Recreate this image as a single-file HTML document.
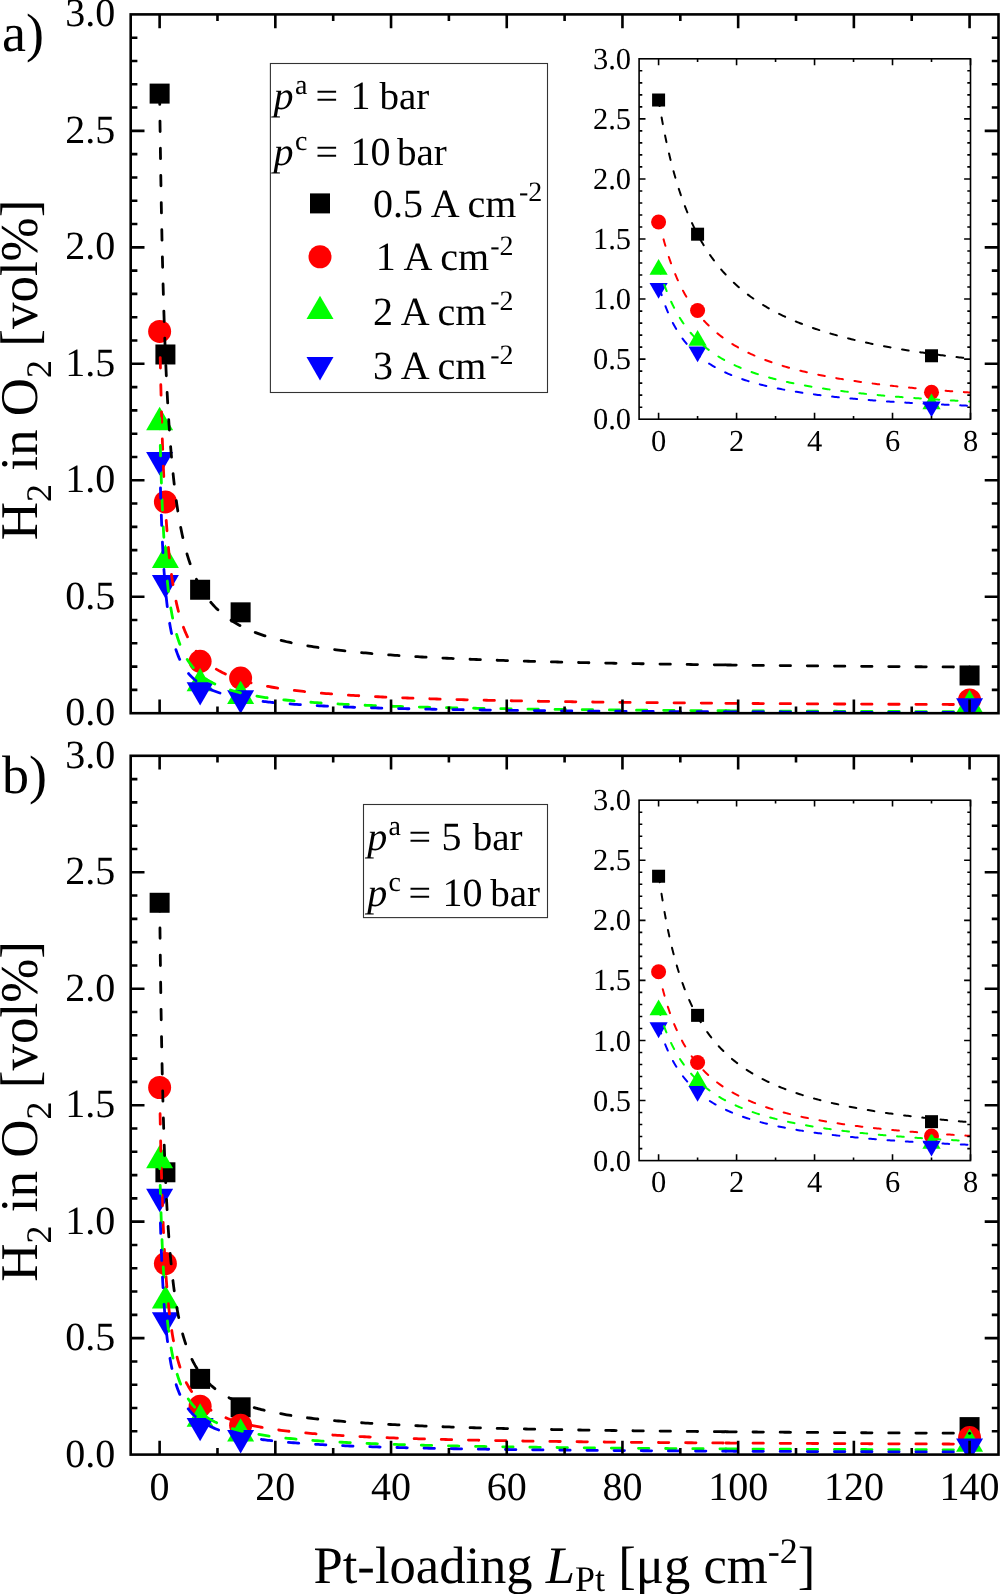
<!DOCTYPE html><html><head><meta charset="utf-8"><style>html,body{margin:0;padding:0;background:#fff;overflow:hidden;width:1000px;height:1594px}svg{display:block;will-change:transform}text{text-rendering:geometricPrecision}</style></head><body>
<svg width="1000" height="1594" viewBox="0 0 1000 1594">
<rect width="1000" height="1594" fill="#fff"/>
<defs><clipPath id="clipm0"><rect x="130.7" y="14.4" width="867.8" height="698.8000000000001"/></clipPath><clipPath id="clipi0"><rect x="639.1" y="58.8" width="331.4" height="360.4"/></clipPath></defs>
<g clip-path="url(#clipm0)">
<rect x="149.63" y="83.60" width="20.00" height="20.00" fill="#000000"/>
<rect x="155.41" y="344.48" width="20.00" height="20.00" fill="#000000"/>
<rect x="190.12" y="579.75" width="20.00" height="20.00" fill="#000000"/>
<rect x="230.62" y="602.34" width="20.00" height="20.00" fill="#000000"/>
<rect x="959.57" y="665.46" width="20.00" height="20.00" fill="#000000"/>
<circle cx="159.63" cy="331.42" r="11.50" fill="#FF0000"/>
<circle cx="165.41" cy="501.93" r="11.50" fill="#FF0000"/>
<circle cx="200.12" cy="661.26" r="11.50" fill="#FF0000"/>
<circle cx="240.62" cy="678.03" r="11.50" fill="#FF0000"/>
<circle cx="969.57" cy="699.92" r="11.50" fill="#FF0000"/>
<path d="M159.63,406.85 L173.13,430.23 L146.13,430.23Z" fill="#00FF00"/>
<path d="M165.41,544.51 L178.91,567.89 L151.91,567.89Z" fill="#00FF00"/>
<path d="M200.12,667.97 L213.62,691.35 L186.62,691.35Z" fill="#00FF00"/>
<path d="M240.62,680.54 L254.12,703.93 L227.12,703.93Z" fill="#00FF00"/>
<path d="M969.57,689.63 L983.07,713.01 L956.07,713.01Z" fill="#00FF00"/>
<path d="M146.13,452.04 L173.13,452.04 L159.63,475.42Z" fill="#0000FF"/>
<path d="M151.91,575.03 L178.91,575.03 L165.41,598.41Z" fill="#0000FF"/>
<path d="M186.62,682.18 L213.62,682.18 L200.12,705.56Z" fill="#0000FF"/>
<path d="M227.12,690.33 L254.12,690.33 L240.62,713.71Z" fill="#0000FF"/>
<path d="M956.07,698.25 L983.07,698.25 L969.57,721.63Z" fill="#0000FF"/>
<path d="M159.63,93.50 L159.70,99.79 L159.78,105.94 L159.86,111.97 L159.94,117.87 L160.01,123.64 L160.09,129.30 L160.17,134.84 L160.24,140.26 L160.32,145.58 L160.40,150.80 L160.48,155.91 L160.55,160.92 L160.63,165.84 L160.71,170.66 L160.78,175.39 L160.86,180.03 L160.94,184.59 L161.02,189.06 L161.09,193.45 L161.17,197.77 L161.25,202.00 L161.32,206.16 L161.40,210.25 L161.48,214.27 L161.56,218.22 L161.63,222.10 L161.71,225.91 L161.79,229.66 L161.87,233.35 L161.94,236.97 L162.02,240.54 L162.10,244.05 L162.17,247.50 L162.25,250.90 L162.33,254.24 L162.41,257.53 L162.48,260.77 L162.56,263.96 L162.64,267.10 L162.71,270.19 L162.79,273.24 L162.87,276.24 L162.95,279.19 L163.02,282.10 L163.10,284.97 L163.18,287.79 L163.25,290.58 L163.33,293.32 L163.41,296.03 L163.49,298.70 L163.56,301.33 L163.64,303.92 L163.72,306.48 L163.79,309.00 L163.87,311.49 L163.95,313.94 L164.03,316.36 L164.10,318.75 L164.18,321.10 L164.26,323.43 L164.34,325.72 L164.41,327.99 L164.49,330.22 L164.57,332.43 L164.64,334.60 L164.72,336.75 L164.80,338.88 L164.88,340.97 L164.95,343.04 L165.03,345.08 L165.11,347.10 L165.18,349.10 L165.26,351.07 L165.34,353.01 L165.42,354.93 L165.49,356.83 L165.57,358.71 L165.65,360.56 L165.72,362.40 L165.80,364.21 L165.88,366.00 L165.96,367.77 L166.03,369.52 L166.11,371.25 L166.19,372.96 L166.26,374.65 L166.34,376.32 L166.42,377.97 L166.50,379.60 L166.57,381.22 L166.65,382.82 L166.73,384.40 L166.81,385.96 L166.88,387.51 L166.96,389.04 L167.04,390.55 L167.11,392.05 L167.19,393.53 L167.27,395.00 L167.35,396.45 L167.42,397.88 L167.50,399.30 L167.65,402.10 L167.81,404.84 L167.96,407.53 L168.12,410.16 L168.27,412.74 L168.43,415.27 L168.58,417.75 L168.73,420.19 L168.89,422.57 L169.04,424.92 L169.20,427.22 L169.35,429.47 L169.51,431.69 L169.66,433.86 L169.82,436.00 L169.97,438.10 L170.12,440.16 L170.28,442.19 L170.43,444.18 L170.59,446.13 L170.74,448.06 L170.90,449.95 L171.05,451.81 L171.21,453.63 L171.36,455.43 L171.51,457.20 L171.67,458.94 L171.82,460.65 L171.98,462.34 L172.13,463.99 L172.29,465.63 L172.44,467.23 L172.59,468.81 L172.75,470.37 L172.90,471.91 L173.06,473.42 L173.21,474.90 L173.37,476.37 L173.52,477.81 L173.68,479.24 L173.91,481.33 L174.14,483.38 L174.37,485.39 L174.60,487.36 L174.83,489.28 L175.06,491.17 L175.30,493.01 L175.53,494.82 L175.76,496.59 L175.99,498.33 L176.22,500.03 L176.45,501.70 L176.69,503.34 L176.92,504.95 L177.15,506.52 L177.38,508.07 L177.61,509.59 L177.84,511.08 L178.07,512.54 L178.31,513.98 L178.54,515.39 L178.85,517.24 L179.16,519.04 L179.46,520.80 L179.77,522.51 L180.08,524.19 L180.39,525.84 L180.70,527.44 L181.01,529.02 L181.32,530.55 L181.63,532.06 L181.93,533.53 L182.24,534.98 L182.55,536.39 L182.86,537.77 L183.25,539.47 L183.63,541.11 L184.02,542.72 L184.40,544.29 L184.79,545.83 L185.18,547.32 L185.56,548.78 L185.95,550.21 L186.33,551.60 L186.72,552.97 L187.18,554.56 L187.65,556.11 L188.11,557.63 L188.57,559.10 L189.04,560.53 L189.50,561.93 L189.96,563.30 L190.50,564.85 L191.04,566.36 L191.58,567.82 L192.12,569.25 L192.66,570.63 L193.20,571.98 L193.74,573.30 L194.36,574.76 L194.98,576.18 L195.60,577.55 L196.21,578.89 L196.83,580.19 L197.53,581.61 L198.22,582.99 L198.92,584.33 L199.61,585.62 L200.31,586.88 L201.08,588.24 L201.85,589.55 L202.62,590.82 L203.39,592.06 L204.16,593.26 L205.01,594.53 L205.86,595.77 L206.71,596.97 L207.56,598.13 L208.49,599.35 L209.41,600.54 L210.34,601.68 L211.27,602.80 L212.19,603.87 L213.20,605.00 L214.20,606.09 L215.20,607.15 L216.21,608.17 L217.29,609.24 L218.37,610.27 L219.45,611.27 L220.53,612.24 L221.61,613.18 L222.77,614.15 L223.93,615.09 L225.08,616.00 L226.24,616.88 L227.40,617.73 L228.56,618.56 L229.79,619.42 L231.03,620.25 L232.26,621.05 L233.50,621.83 L234.73,622.58 L235.97,623.32 L237.20,624.03 L238.44,624.72 L239.75,625.43 L241.06,626.12 L242.37,626.79 L243.69,627.45 L245.00,628.08 L246.31,628.70 L247.62,629.29 L248.93,629.88 L250.25,630.44 L251.56,631.00 L252.87,631.53 L254.26,632.09 L255.65,632.63 L257.04,633.15 L258.43,633.66 L259.82,634.16 L261.21,634.64 L262.60,635.12 L263.99,635.58 L265.38,636.03 L266.77,636.46 L268.15,636.89 L269.54,637.31 L270.93,637.72 L272.32,638.12 L273.71,638.51 L275.10,638.89 L277.59,639.55 L279.85,640.12 L282.11,640.68 L284.37,641.22 L286.62,641.74 L288.88,642.24 L291.14,642.73 L293.40,643.20 L295.66,643.65 L297.91,644.09 L300.17,644.52 L302.43,644.94 L304.69,645.34 L306.95,645.73 L309.21,646.11 L311.46,646.48 L313.72,646.84 L315.98,647.18 L318.24,647.52 L320.50,647.85 L322.75,648.18 L325.01,648.49 L327.27,648.79 L329.53,649.09 L331.79,649.38 L334.05,649.66 L336.30,649.94 L338.56,650.20 L340.82,650.47 L343.08,650.72 L345.34,650.97 L347.59,651.22 L349.85,651.46 L352.11,651.69 L354.37,651.92 L356.63,652.14 L358.89,652.36 L361.14,652.57 L363.40,652.78 L365.66,652.98 L367.92,653.18 L370.18,653.38 L372.43,653.57 L374.69,653.76 L376.95,653.94 L379.21,654.12 L381.47,654.30 L383.73,654.47 L385.98,654.64 L388.24,654.81 L390.50,654.97 L392.76,655.14 L395.02,655.29 L397.27,655.45 L399.53,655.60 L401.79,655.75 L404.05,655.89 L406.31,656.04 L408.57,656.18 L410.82,656.32 L413.08,656.46 L415.34,656.59 L417.60,656.72 L419.86,656.85 L422.11,656.98 L424.37,657.10 L426.63,657.23 L428.89,657.35 L431.15,657.47 L433.40,657.58 L435.66,657.70 L437.92,657.81 L440.18,657.92 L442.44,658.03 L444.70,658.14 L446.95,658.25 L449.21,658.35 L451.47,658.46 L453.73,658.56 L455.99,658.66 L458.24,658.76 L460.50,658.86 L462.76,658.95 L465.02,659.05 L467.28,659.14 L469.54,659.23 L471.79,659.32 L474.05,659.41 L476.31,659.50 L478.57,659.59 L480.83,659.67 L483.08,659.76 L485.34,659.84 L487.60,659.92 L489.86,660.01 L492.12,660.09 L494.38,660.17 L496.63,660.24 L498.89,660.32 L501.15,660.40 L503.41,660.47 L505.67,660.55 L507.92,660.62 L510.18,660.69 L512.44,660.76 L514.70,660.83 L516.96,660.90 L519.22,660.97 L521.47,661.04 L523.73,661.11 L525.99,661.17 L528.25,661.24 L530.51,661.30 L532.76,661.37 L535.02,661.43 L537.28,661.49 L539.54,661.55 L541.80,661.61 L544.05,661.67 L546.31,661.73 L548.57,661.79 L550.83,661.85 L553.09,661.91 L555.35,661.96 L557.60,662.02 L559.86,662.08 L562.12,662.13 L564.38,662.19 L566.64,662.24 L568.89,662.29 L571.15,662.35 L573.41,662.40 L575.67,662.45 L577.93,662.50 L580.19,662.55 L582.44,662.60 L584.70,662.65 L586.96,662.70 L589.22,662.75 L591.48,662.80 L593.73,662.84 L595.99,662.89 L598.25,662.94 L600.51,662.98 L602.77,663.03 L605.03,663.07 L607.28,663.12 L609.54,663.16 L611.80,663.20 L614.06,663.25 L616.32,663.29 L618.57,663.33 L620.83,663.38 L623.09,663.42 L625.35,663.46 L627.61,663.50 L629.87,663.54 L632.12,663.58 L634.38,663.62 L636.64,663.66 L638.90,663.70 L641.16,663.74 L643.41,663.77 L645.67,663.81 L647.93,663.85 L650.19,663.89 L652.45,663.92 L654.71,663.96 L656.96,664.00 L659.22,664.03 L661.48,664.07 L663.74,664.10 L666.00,664.14 L668.25,664.17 L670.51,664.21 L672.77,664.24 L675.03,664.28 L677.29,664.31 L679.54,664.34 L681.80,664.38 L684.06,664.41 L686.32,664.44 L688.58,664.47 L690.84,664.50 L693.09,664.54 L695.35,664.57 L697.61,664.60 L699.87,664.63 L702.13,664.66 L704.38,664.69 L706.64,664.72 L708.90,664.75 L711.16,664.78 L713.42,664.81 L715.68,664.84 L717.93,664.87 L720.19,664.89 L722.45,664.92 L724.71,664.95 L725.84,664.96" fill="none" stroke="#000000" stroke-width="2.8" stroke-dasharray="10.4 16.75" stroke-dashoffset="26.67" stroke-linecap="round"/><path d="M725.84,664.96 L727.47,664.99 L729.10,665.01 L730.73,665.02 L732.36,665.04 L733.99,665.06 L735.62,665.08 L737.25,665.10 L738.88,665.12 L740.51,665.14 L742.14,665.16 L743.77,665.18 L745.40,665.20 L747.03,665.22 L748.66,665.24 L750.29,665.25 L751.92,665.27 L753.55,665.29 L755.18,665.31 L756.81,665.33 L758.44,665.35 L760.07,665.36 L761.70,665.38 L763.34,665.40 L764.97,665.42 L766.60,665.44 L768.23,665.45 L769.86,665.47 L771.49,665.49 L773.12,665.50 L774.75,665.52 L776.38,665.54 L778.01,665.56 L779.64,665.57 L781.27,665.59 L782.90,665.61 L784.53,665.62 L786.16,665.64 L787.79,665.66 L789.42,665.67 L791.05,665.69 L792.68,665.71 L794.31,665.72 L795.94,665.74 L797.57,665.75 L799.20,665.77 L800.83,665.78 L802.46,665.80 L804.09,665.82 L805.72,665.83 L807.35,665.85 L808.98,665.86 L810.62,665.88 L812.25,665.89 L813.88,665.91 L815.51,665.92 L817.14,665.94 L818.77,665.95 L820.40,665.97 L822.03,665.98 L823.66,666.00 L825.29,666.01 L826.92,666.03 L828.55,666.04 L830.18,666.06 L831.81,666.07 L833.44,666.09 L835.07,666.10 L836.70,666.11 L838.33,666.13 L839.96,666.14 L841.59,666.16 L843.22,666.17 L844.85,666.18 L846.48,666.20 L848.11,666.21 L849.74,666.22 L851.37,666.24 L853.00,666.25 L854.63,666.27 L856.26,666.28 L857.89,666.29 L859.53,666.31 L861.16,666.32 L862.79,666.33 L864.42,666.34 L866.05,666.36 L867.68,666.37 L869.31,666.38 L870.94,666.40 L872.57,666.41 L874.20,666.42 L875.83,666.43 L877.46,666.45 L879.09,666.46 L880.72,666.47 L882.35,666.48 L883.98,666.50 L885.61,666.51 L887.24,666.52 L888.87,666.53 L890.50,666.55 L892.13,666.56 L893.76,666.57 L895.39,666.58 L897.02,666.59 L898.65,666.61 L900.28,666.62 L901.91,666.63 L903.54,666.64 L905.17,666.65 L906.81,666.67 L908.44,666.68 L910.07,666.69 L911.70,666.70 L913.33,666.71 L914.96,666.72 L916.59,666.73 L918.22,666.75 L919.85,666.76 L921.48,666.77 L923.11,666.78 L924.74,666.79 L926.37,666.80 L928.00,666.81 L929.63,666.82 L931.26,666.83 L932.89,666.85 L934.52,666.86 L936.15,666.87 L937.78,666.88 L939.41,666.89 L941.04,666.90 L942.67,666.91 L944.30,666.92 L945.93,666.93 L947.56,666.94 L949.19,666.95 L950.82,666.96 L952.45,666.97 L954.09,666.98 L955.72,666.99 L957.35,667.00 L958.98,667.01 L960.61,667.02 L962.24,667.03 L963.87,667.04 L965.50,667.05 L967.13,667.06 L968.76,667.07 L969.57,667.08" fill="none" stroke="#000000" stroke-width="2.8" stroke-dasharray="10.4 16.75" stroke-linecap="round"/><circle cx="969.57" cy="667.08" r="1.5" fill="#000"/>
<path d="M159.63,324.11 L159.70,328.75 L159.78,333.28 L159.86,337.71 L159.94,342.03 L160.01,346.25 L160.09,350.37 L160.17,354.40 L160.24,358.34 L160.32,362.19 L160.40,365.96 L160.48,369.65 L160.55,373.26 L160.63,376.79 L160.71,380.25 L160.78,383.64 L160.86,386.95 L160.94,390.20 L161.02,393.39 L161.09,396.51 L161.17,399.57 L161.25,402.57 L161.32,405.52 L161.40,408.40 L161.48,411.23 L161.56,414.01 L161.63,416.74 L161.71,419.42 L161.79,422.05 L161.87,424.63 L161.94,427.16 L162.02,429.65 L162.10,432.10 L162.17,434.50 L162.25,436.86 L162.33,439.18 L162.41,441.46 L162.48,443.70 L162.56,445.91 L162.64,448.08 L162.71,450.21 L162.79,452.31 L162.87,454.37 L162.95,456.41 L163.02,458.41 L163.10,460.37 L163.18,462.31 L163.25,464.22 L163.33,466.09 L163.41,467.94 L163.49,469.76 L163.56,471.55 L163.64,473.32 L163.72,475.06 L163.79,476.77 L163.87,478.46 L163.95,480.13 L164.03,481.77 L164.10,483.38 L164.18,484.98 L164.26,486.55 L164.34,488.10 L164.41,489.63 L164.49,491.13 L164.57,492.62 L164.64,494.08 L164.72,495.53 L164.80,496.96 L164.95,499.75 L165.11,502.47 L165.26,505.13 L165.42,507.71 L165.57,510.23 L165.72,512.69 L165.88,515.08 L166.03,517.42 L166.19,519.70 L166.34,521.93 L166.50,524.11 L166.65,526.23 L166.81,528.31 L166.96,530.34 L167.11,532.32 L167.27,534.26 L167.42,536.16 L167.58,538.01 L167.73,539.83 L167.89,541.61 L168.04,543.35 L168.19,545.05 L168.35,546.72 L168.50,548.36 L168.66,549.96 L168.81,551.53 L168.97,553.07 L169.12,554.58 L169.28,556.06 L169.43,557.51 L169.58,558.94 L169.82,561.02 L170.05,563.05 L170.28,565.03 L170.51,566.95 L170.74,568.82 L170.97,570.64 L171.21,572.41 L171.44,574.14 L171.67,575.82 L171.90,577.46 L172.13,579.06 L172.36,580.63 L172.59,582.15 L172.83,583.64 L173.06,585.09 L173.29,586.51 L173.60,588.36 L173.91,590.14 L174.22,591.88 L174.52,593.56 L174.83,595.20 L175.14,596.79 L175.45,598.33 L175.76,599.84 L176.07,601.30 L176.38,602.72 L176.69,604.11 L177.07,605.79 L177.46,607.41 L177.84,608.99 L178.23,610.52 L178.62,612.00 L179.00,613.43 L179.39,614.83 L179.85,616.44 L180.31,618.01 L180.78,619.52 L181.24,620.98 L181.70,622.39 L182.17,623.76 L182.71,625.30 L183.25,626.78 L183.79,628.21 L184.33,629.60 L184.87,630.93 L185.49,632.40 L186.10,633.82 L186.72,635.18 L187.34,636.49 L188.03,637.91 L188.73,639.28 L189.42,640.59 L190.12,641.86 L190.89,643.21 L191.66,644.50 L192.43,645.74 L193.20,646.94 L194.05,648.20 L194.90,649.41 L195.75,650.58 L196.68,651.79 L197.60,652.96 L198.53,654.08 L199.46,655.15 L200.46,656.26 L201.46,657.33 L202.47,658.36 L203.55,659.42 L204.63,660.43 L205.71,661.40 L206.79,662.33 L207.95,663.29 L209.10,664.21 L210.26,665.09 L211.42,665.93 L212.58,666.75 L213.81,667.58 L215.05,668.38 L216.28,669.15 L217.52,669.88 L218.75,670.59 L220.07,671.32 L221.38,672.02 L222.69,672.69 L224.00,673.34 L225.31,673.96 L226.63,674.56 L227.94,675.14 L229.25,675.70 L230.56,676.24 L231.95,676.79 L233.34,677.32 L234.73,677.84 L236.12,678.34 L237.51,678.82 L238.90,679.29 L240.29,679.74 L241.68,680.17 L243.07,680.60 L244.46,681.01 L245.85,681.40 L247.24,681.79 L248.63,682.17 L250.02,682.53 L251.40,682.88 L252.79,683.23 L254.18,683.56 L255.57,683.89 L256.96,684.20 L258.35,684.51 L259.74,684.81 L261.13,685.11 L262.52,685.39 L263.91,685.67 L265.30,685.94 L266.69,686.20 L268.15,686.48 L269.62,686.74 L271.09,687.00 L272.55,687.25 L274.02,687.50 L276.46,687.90 L278.72,688.25 L280.98,688.59 L283.24,688.92 L285.50,689.24 L287.75,689.54 L290.01,689.84 L292.27,690.13 L294.53,690.41 L296.79,690.67 L299.04,690.94 L301.30,691.19 L303.56,691.43 L305.82,691.67 L308.08,691.90 L310.33,692.13 L312.59,692.35 L314.85,692.56 L317.11,692.76 L319.37,692.96 L321.63,693.16 L323.88,693.35 L326.14,693.53 L328.40,693.72 L330.66,693.89 L332.92,694.06 L335.17,694.23 L337.43,694.39 L339.69,694.55 L341.95,694.71 L344.21,694.86 L346.47,695.01 L348.72,695.15 L350.98,695.29 L353.24,695.43 L355.50,695.56 L357.76,695.70 L360.01,695.83 L362.27,695.95 L364.53,696.08 L366.79,696.20 L369.05,696.31 L371.31,696.43 L373.56,696.54 L375.82,696.66 L378.08,696.76 L380.34,696.87 L382.60,696.98 L384.85,697.08 L387.11,697.18 L389.37,697.28 L391.63,697.38 L393.89,697.47 L396.15,697.56 L398.40,697.66 L400.66,697.75 L402.92,697.83 L405.18,697.92 L407.44,698.01 L409.69,698.09 L411.95,698.17 L414.21,698.25 L416.47,698.33 L418.73,698.41 L420.98,698.49 L423.24,698.56 L425.50,698.64 L427.76,698.71 L430.02,698.78 L432.28,698.85 L434.53,698.92 L436.79,698.99 L439.05,699.06 L441.31,699.12 L443.57,699.19 L445.82,699.25 L448.08,699.32 L450.34,699.38 L452.60,699.44 L454.86,699.50 L457.12,699.56 L459.37,699.62 L461.63,699.68 L463.89,699.73 L466.15,699.79 L468.41,699.85 L470.66,699.90 L472.92,699.95 L475.18,700.01 L477.44,700.06 L479.70,700.11 L481.96,700.16 L484.21,700.21 L486.47,700.26 L488.73,700.31 L490.99,700.36 L493.25,700.41 L495.50,700.45 L497.76,700.50 L500.02,700.54 L502.28,700.59 L504.54,700.63 L506.80,700.68 L509.05,700.72 L511.31,700.76 L513.57,700.81 L515.83,700.85 L518.09,700.89 L520.34,700.93 L522.60,700.97 L524.86,701.01 L527.12,701.05 L529.38,701.09 L531.64,701.13 L533.89,701.16 L536.15,701.20 L538.41,701.24 L540.67,701.28 L542.93,701.31 L545.18,701.35 L547.44,701.38 L549.70,701.42 L551.96,701.45 L554.22,701.49 L556.47,701.52 L558.73,701.55 L560.99,701.59 L563.25,701.62 L565.51,701.65 L567.77,701.68 L570.02,701.72 L572.28,701.75 L574.54,701.78 L576.80,701.81 L579.06,701.84 L581.31,701.87 L583.57,701.90 L585.83,701.93 L588.09,701.96 L590.35,701.98 L592.61,702.01 L594.86,702.04 L597.12,702.07 L599.38,702.10 L601.64,702.12 L603.90,702.15 L606.15,702.18 L608.41,702.20 L610.67,702.23 L612.93,702.26 L615.19,702.28 L617.45,702.31 L619.70,702.33 L621.96,702.36 L624.22,702.38 L626.48,702.41 L628.74,702.43 L630.99,702.46 L633.25,702.48 L635.51,702.50 L637.77,702.53 L640.03,702.55 L642.29,702.57 L644.54,702.59 L646.80,702.62 L649.06,702.64 L651.32,702.66 L653.58,702.68 L655.83,702.70 L658.09,702.73 L660.35,702.75 L662.61,702.77 L664.87,702.79 L667.12,702.81 L669.38,702.83 L671.64,702.85 L673.90,702.87 L676.16,702.89 L678.42,702.91 L680.67,702.93 L682.93,702.95 L685.19,702.97 L687.45,702.99 L689.71,703.01 L691.96,703.03 L694.22,703.05 L696.48,703.06 L698.74,703.08 L701.00,703.10 L703.26,703.12 L705.51,703.14 L707.77,703.16 L710.03,703.17 L712.29,703.19 L714.55,703.21 L716.80,703.23 L719.06,703.24 L721.32,703.26 L723.58,703.28 L725.84,703.29" fill="none" stroke="#FF0000" stroke-width="2.8" stroke-dasharray="10.4 16.75" stroke-dashoffset="20.81" stroke-linecap="round"/><path d="M725.84,703.29 L727.47,703.30 L729.10,703.32 L730.73,703.33 L732.36,703.34 L733.99,703.35 L735.62,703.36 L737.25,703.38 L738.88,703.39 L740.51,703.40 L742.14,703.41 L743.77,703.42 L745.40,703.43 L747.03,703.44 L748.66,703.45 L750.29,703.47 L751.92,703.48 L753.55,703.49 L755.18,703.50 L756.81,703.51 L758.44,703.52 L760.07,703.53 L761.70,703.54 L763.34,703.55 L764.97,703.56 L766.60,703.57 L768.23,703.58 L769.86,703.59 L771.49,703.60 L773.12,703.61 L774.75,703.62 L776.38,703.63 L778.01,703.65 L779.64,703.66 L781.27,703.67 L782.90,703.68 L784.53,703.69 L786.16,703.69 L787.79,703.70 L789.42,703.71 L791.05,703.72 L792.68,703.73 L794.31,703.74 L795.94,703.75 L797.57,703.76 L799.20,703.77 L800.83,703.78 L802.46,703.79 L804.09,703.80 L805.72,703.81 L807.35,703.82 L808.98,703.83 L810.62,703.84 L812.25,703.85 L813.88,703.86 L815.51,703.86 L817.14,703.87 L818.77,703.88 L820.40,703.89 L822.03,703.90 L823.66,703.91 L825.29,703.92 L826.92,703.93 L828.55,703.93 L830.18,703.94 L831.81,703.95 L833.44,703.96 L835.07,703.97 L836.70,703.98 L838.33,703.99 L839.96,703.99 L841.59,704.00 L843.22,704.01 L844.85,704.02 L846.48,704.03 L848.11,704.04 L849.74,704.04 L851.37,704.05 L853.00,704.06 L854.63,704.07 L856.26,704.08 L857.89,704.08 L859.53,704.09 L861.16,704.10 L862.79,704.11 L864.42,704.11 L866.05,704.12 L867.68,704.13 L869.31,704.14 L870.94,704.15 L872.57,704.15 L874.20,704.16 L875.83,704.17 L877.46,704.18 L879.09,704.18 L880.72,704.19 L882.35,704.20 L883.98,704.21 L885.61,704.21 L887.24,704.22 L888.87,704.23 L890.50,704.24 L892.13,704.24 L893.76,704.25 L895.39,704.26 L897.02,704.26 L898.65,704.27 L900.28,704.28 L901.91,704.29 L903.54,704.29 L905.17,704.30 L906.81,704.31 L908.44,704.31 L910.07,704.32 L911.70,704.33 L913.33,704.33 L914.96,704.34 L916.59,704.35 L918.22,704.35 L919.85,704.36 L921.48,704.37 L923.11,704.37 L924.74,704.38 L926.37,704.39 L928.00,704.39 L929.63,704.40 L931.26,704.41 L932.89,704.41 L934.52,704.42 L936.15,704.43 L937.78,704.43 L939.41,704.44 L941.04,704.45 L942.67,704.45 L944.30,704.46 L945.93,704.46 L947.56,704.47 L949.19,704.48 L950.82,704.48 L952.45,704.49 L954.09,704.50 L955.72,704.50 L957.35,704.51 L958.98,704.51 L960.61,704.52 L962.24,704.53 L963.87,704.53 L965.50,704.54 L967.13,704.54 L968.76,704.55 L969.57,704.55" fill="none" stroke="#FF0000" stroke-width="2.8" stroke-dasharray="10.4 16.75" stroke-linecap="round"/>
<path d="M159.63,416.72 L159.70,420.37 L159.78,423.94 L159.86,427.42 L159.94,430.81 L160.01,434.13 L160.09,437.37 L160.17,440.53 L160.24,443.63 L160.32,446.65 L160.40,449.61 L160.48,452.50 L160.55,455.33 L160.63,458.10 L160.71,460.81 L160.78,463.47 L160.86,466.07 L160.94,468.61 L161.02,471.11 L161.09,473.55 L161.17,475.94 L161.25,478.29 L161.32,480.59 L161.40,482.85 L161.48,485.07 L161.56,487.24 L161.63,489.37 L161.71,491.46 L161.79,493.51 L161.87,495.53 L161.94,497.51 L162.02,499.45 L162.10,501.36 L162.17,503.24 L162.25,505.08 L162.33,506.89 L162.41,508.67 L162.48,510.42 L162.56,512.14 L162.64,513.83 L162.71,515.49 L162.79,517.13 L162.87,518.73 L162.95,520.32 L163.02,521.87 L163.10,523.41 L163.18,524.91 L163.25,526.40 L163.33,527.86 L163.41,529.30 L163.49,530.71 L163.64,533.48 L163.79,536.17 L163.95,538.78 L164.10,541.31 L164.26,543.77 L164.41,546.16 L164.57,548.48 L164.72,550.74 L164.88,552.94 L165.03,555.09 L165.18,557.17 L165.34,559.20 L165.49,561.18 L165.65,563.11 L165.80,564.99 L165.96,566.83 L166.11,568.62 L166.26,570.37 L166.42,572.07 L166.57,573.74 L166.73,575.36 L166.88,576.95 L167.04,578.51 L167.19,580.03 L167.35,581.51 L167.50,582.96 L167.65,584.38 L167.89,586.46 L168.12,588.47 L168.35,590.42 L168.58,592.30 L168.81,594.13 L169.04,595.91 L169.28,597.63 L169.51,599.31 L169.74,600.94 L169.97,602.52 L170.20,604.06 L170.43,605.55 L170.66,607.01 L170.90,608.43 L171.21,610.26 L171.51,612.03 L171.82,613.74 L172.13,615.39 L172.44,616.99 L172.75,618.54 L173.06,620.04 L173.37,621.50 L173.68,622.91 L174.06,624.61 L174.45,626.25 L174.83,627.83 L175.22,629.36 L175.60,630.83 L175.99,632.25 L176.38,633.63 L176.84,635.22 L177.30,636.74 L177.77,638.21 L178.23,639.63 L178.69,640.99 L179.23,642.52 L179.77,643.98 L180.31,645.39 L180.85,646.74 L181.47,648.22 L182.09,649.64 L182.71,650.99 L183.32,652.29 L184.02,653.69 L184.71,655.03 L185.41,656.31 L186.18,657.67 L186.95,658.97 L187.72,660.20 L188.57,661.50 L189.42,662.74 L190.27,663.92 L191.20,665.15 L192.12,666.32 L193.05,667.43 L194.05,668.58 L195.06,669.67 L196.06,670.72 L197.14,671.79 L198.22,672.80 L199.30,673.77 L200.38,674.70 L201.54,675.64 L202.70,676.54 L203.86,677.40 L205.01,678.22 L206.25,679.06 L207.48,679.86 L208.72,680.62 L209.95,681.35 L211.19,682.05 L212.50,682.76 L213.81,683.43 L215.13,684.08 L216.44,684.71 L217.75,685.30 L219.06,685.88 L220.37,686.43 L221.69,686.96 L223.08,687.49 L224.47,688.01 L225.86,688.51 L227.24,688.99 L228.63,689.45 L230.02,689.90 L231.41,690.33 L232.80,690.74 L234.19,691.14 L235.58,691.52 L236.97,691.90 L238.36,692.26 L239.75,692.61 L241.14,692.95 L242.53,693.27 L243.92,693.59 L245.31,693.90 L246.70,694.20 L248.09,694.49 L249.47,694.77 L250.86,695.05 L252.25,695.31 L253.72,695.58 L255.19,695.85 L256.65,696.11 L258.12,696.36 L259.59,696.60 L261.05,696.84 L262.52,697.07 L263.99,697.29 L265.45,697.51 L266.92,697.72 L268.39,697.93 L269.85,698.13 L271.32,698.33 L272.79,698.52 L274.25,698.71 L276.46,698.98 L278.72,699.25 L280.98,699.51 L283.24,699.77 L285.50,700.01 L287.75,700.24 L290.01,700.47 L292.27,700.69 L294.53,700.90 L296.79,701.11 L299.04,701.31 L301.30,701.50 L303.56,701.69 L305.82,701.87 L308.08,702.05 L310.33,702.22 L312.59,702.39 L314.85,702.55 L317.11,702.71 L319.37,702.86 L321.63,703.01 L323.88,703.15 L326.14,703.30 L328.40,703.43 L330.66,703.57 L332.92,703.70 L335.17,703.83 L337.43,703.95 L339.69,704.07 L341.95,704.19 L344.21,704.31 L346.47,704.42 L348.72,704.53 L350.98,704.64 L353.24,704.74 L355.50,704.85 L357.76,704.95 L360.01,705.05 L362.27,705.14 L364.53,705.24 L366.79,705.33 L369.05,705.42 L371.31,705.51 L373.56,705.60 L375.82,705.68 L378.08,705.76 L380.34,705.85 L382.60,705.93 L384.85,706.00 L387.11,706.08 L389.37,706.16 L391.63,706.23 L393.89,706.30 L396.15,706.37 L398.40,706.44 L400.66,706.51 L402.92,706.58 L405.18,706.65 L407.44,706.71 L409.69,706.78 L411.95,706.84 L414.21,706.90 L416.47,706.96 L418.73,707.02 L420.98,707.08 L423.24,707.14 L425.50,707.19 L427.76,707.25 L430.02,707.31 L432.28,707.36 L434.53,707.41 L436.79,707.46 L439.05,707.52 L441.31,707.57 L443.57,707.62 L445.82,707.67 L448.08,707.71 L450.34,707.76 L452.60,707.81 L454.86,707.85 L457.12,707.90 L459.37,707.95 L461.63,707.99 L463.89,708.03 L466.15,708.08 L468.41,708.12 L470.66,708.16 L472.92,708.20 L475.18,708.24 L477.44,708.28 L479.70,708.32 L481.96,708.36 L484.21,708.40 L486.47,708.44 L488.73,708.47 L490.99,708.51 L493.25,708.55 L495.50,708.58 L497.76,708.62 L500.02,708.65 L502.28,708.69 L504.54,708.72 L506.80,708.75 L509.05,708.79 L511.31,708.82 L513.57,708.85 L515.83,708.88 L518.09,708.92 L520.34,708.95 L522.60,708.98 L524.86,709.01 L527.12,709.04 L529.38,709.07 L531.64,709.10 L533.89,709.13 L536.15,709.15 L538.41,709.18 L540.67,709.21 L542.93,709.24 L545.18,709.27 L547.44,709.29 L549.70,709.32 L551.96,709.35 L554.22,709.37 L556.47,709.40 L558.73,709.42 L560.99,709.45 L563.25,709.47 L565.51,709.50 L567.77,709.52 L570.02,709.55 L572.28,709.57 L574.54,709.59 L576.80,709.62 L579.06,709.64 L581.31,709.66 L583.57,709.69 L585.83,709.71 L588.09,709.73 L590.35,709.75 L592.61,709.77 L594.86,709.80 L597.12,709.82 L599.38,709.84 L601.64,709.86 L603.90,709.88 L606.15,709.90 L608.41,709.92 L610.67,709.94 L612.93,709.96 L615.19,709.98 L617.45,710.00 L619.70,710.02 L621.96,710.04 L624.22,710.06 L626.48,710.07 L628.74,710.09 L630.99,710.11 L633.25,710.13 L635.51,710.15 L637.77,710.17 L640.03,710.18 L642.29,710.20 L644.54,710.22 L646.80,710.24 L649.06,710.25 L651.32,710.27 L653.58,710.29 L655.83,710.30 L658.09,710.32 L660.35,710.34 L662.61,710.35 L664.87,710.37 L667.12,710.38 L669.38,710.40 L671.64,710.41 L673.90,710.43 L676.16,710.45 L678.42,710.46 L680.67,710.48 L682.93,710.49 L685.19,710.51 L687.45,710.52 L689.71,710.53 L691.96,710.55 L694.22,710.56 L696.48,710.58 L698.74,710.59 L701.00,710.61 L703.26,710.62 L705.51,710.63 L707.77,710.65 L710.03,710.66 L712.29,710.67 L714.55,710.69 L716.80,710.70 L719.06,710.71 L721.32,710.73 L723.58,710.74 L725.84,710.75" fill="none" stroke="#00FF00" stroke-width="2.8" stroke-dasharray="10.4 16.75" stroke-dashoffset="25.52" stroke-linecap="round"/><path d="M725.84,710.75 L727.47,710.76 L729.10,710.77 L730.73,710.78 L732.36,710.79 L733.99,710.80 L735.62,710.81 L737.25,710.81 L738.88,710.82 L740.51,710.83 L742.14,710.84 L743.77,710.85 L745.40,710.86 L747.03,710.87 L748.66,710.87 L750.29,710.88 L751.92,710.89 L753.55,710.90 L755.18,710.91 L756.81,710.92 L758.44,710.92 L760.07,710.93 L761.70,710.94 L763.34,710.95 L764.97,710.96 L766.60,710.97 L768.23,710.97 L769.86,710.98 L771.49,710.99 L773.12,711.00 L774.75,711.00 L776.38,711.01 L778.01,711.02 L779.64,711.03 L781.27,711.04 L782.90,711.04 L784.53,711.05 L786.16,711.06 L787.79,711.07 L789.42,711.07 L791.05,711.08 L792.68,711.09 L794.31,711.10 L795.94,711.10 L797.57,711.11 L799.20,711.12 L800.83,711.12 L802.46,711.13 L804.09,711.14 L805.72,711.15 L807.35,711.15 L808.98,711.16 L810.62,711.17 L812.25,711.17 L813.88,711.18 L815.51,711.19 L817.14,711.19 L818.77,711.20 L820.40,711.21 L822.03,711.21 L823.66,711.22 L825.29,711.23 L826.92,711.23 L828.55,711.24 L830.18,711.25 L831.81,711.25 L833.44,711.26 L835.07,711.27 L836.70,711.27 L838.33,711.28 L839.96,711.29 L841.59,711.29 L843.22,711.30 L844.85,711.31 L846.48,711.31 L848.11,711.32 L849.74,711.32 L851.37,711.33 L853.00,711.34 L854.63,711.34 L856.26,711.35 L857.89,711.36 L859.53,711.36 L861.16,711.37 L862.79,711.37 L864.42,711.38 L866.05,711.39 L867.68,711.39 L869.31,711.40 L870.94,711.40 L872.57,711.41 L874.20,711.41 L875.83,711.42 L877.46,711.43 L879.09,711.43 L880.72,711.44 L882.35,711.44 L883.98,711.45 L885.61,711.45 L887.24,711.46 L888.87,711.47 L890.50,711.47 L892.13,711.48 L893.76,711.48 L895.39,711.49 L897.02,711.49 L898.65,711.50 L900.28,711.50 L901.91,711.51 L903.54,711.51 L905.17,711.52 L906.81,711.53 L908.44,711.53 L910.07,711.54 L911.70,711.54 L913.33,711.55 L914.96,711.55 L916.59,711.56 L918.22,711.56 L919.85,711.57 L921.48,711.57 L923.11,711.58 L924.74,711.58 L926.37,711.59 L928.00,711.59 L929.63,711.60 L931.26,711.60 L932.89,711.61 L934.52,711.61 L936.15,711.62 L937.78,711.62 L939.41,711.63 L941.04,711.63 L942.67,711.64 L944.30,711.64 L945.93,711.65 L947.56,711.65 L949.19,711.66 L950.82,711.66 L952.45,711.67 L954.09,711.67 L955.72,711.67 L957.35,711.68 L958.98,711.68 L960.61,711.69 L962.24,711.69 L963.87,711.70 L965.50,711.70 L967.13,711.71 L968.76,711.71 L969.57,711.71" fill="none" stroke="#00FF00" stroke-width="2.8" stroke-dasharray="10.4 16.75" stroke-linecap="round"/>
<path d="M159.63,451.71 L159.70,455.47 L159.78,459.12 L159.86,462.68 L159.94,466.13 L160.01,469.49 L160.09,472.76 L160.17,475.95 L160.24,479.05 L160.32,482.07 L160.40,485.02 L160.48,487.89 L160.55,490.69 L160.63,493.42 L160.71,496.09 L160.78,498.69 L160.86,501.23 L160.94,503.72 L161.02,506.14 L161.09,508.51 L161.17,510.83 L161.25,513.09 L161.32,515.31 L161.40,517.47 L161.48,519.59 L161.56,521.67 L161.63,523.70 L161.71,525.69 L161.79,527.64 L161.87,529.54 L161.94,531.41 L162.02,533.24 L162.10,535.04 L162.17,536.80 L162.25,538.53 L162.33,540.22 L162.41,541.88 L162.48,543.51 L162.56,545.11 L162.64,546.67 L162.71,548.21 L162.79,549.73 L162.87,551.21 L162.95,552.67 L163.02,554.10 L163.18,556.89 L163.33,559.58 L163.49,562.19 L163.64,564.71 L163.79,567.14 L163.95,569.50 L164.10,571.78 L164.26,573.99 L164.41,576.14 L164.57,578.22 L164.72,580.23 L164.88,582.19 L165.03,584.10 L165.18,585.94 L165.34,587.74 L165.49,589.49 L165.65,591.19 L165.80,592.84 L165.96,594.45 L166.11,596.02 L166.26,597.55 L166.42,599.03 L166.57,600.49 L166.73,601.90 L166.96,603.96 L167.19,605.94 L167.42,607.85 L167.65,609.70 L167.89,611.49 L168.12,613.21 L168.35,614.88 L168.58,616.49 L168.81,618.05 L169.04,619.56 L169.28,621.03 L169.51,622.45 L169.82,624.28 L170.12,626.04 L170.43,627.73 L170.74,629.35 L171.05,630.92 L171.36,632.43 L171.67,633.88 L171.98,635.29 L172.36,636.98 L172.75,638.59 L173.13,640.15 L173.52,641.63 L173.91,643.07 L174.29,644.44 L174.76,646.02 L175.22,647.53 L175.68,648.98 L176.15,650.36 L176.69,651.91 L177.23,653.38 L177.77,654.78 L178.31,656.12 L178.92,657.58 L179.54,658.96 L180.16,660.29 L180.85,661.70 L181.55,663.04 L182.24,664.31 L183.02,665.66 L183.79,666.93 L184.56,668.14 L185.41,669.40 L186.26,670.59 L187.18,671.82 L188.11,672.98 L189.04,674.08 L190.04,675.21 L191.04,676.28 L192.05,677.29 L193.13,678.32 L194.21,679.29 L195.29,680.21 L196.45,681.15 L197.60,682.03 L198.76,682.87 L200.00,683.72 L201.23,684.52 L202.47,685.29 L203.70,686.01 L205.01,686.74 L206.33,687.43 L207.64,688.09 L208.95,688.72 L210.26,689.32 L211.58,689.89 L212.89,690.44 L214.28,690.99 L215.67,691.52 L217.06,692.02 L218.44,692.50 L219.83,692.96 L221.22,693.40 L222.61,693.83 L224.00,694.24 L225.39,694.63 L226.78,695.00 L228.17,695.37 L229.56,695.71 L230.95,696.05 L232.34,696.37 L233.73,696.69 L235.12,696.99 L236.51,697.28 L237.90,697.56 L239.29,697.84 L240.68,698.10 L242.14,698.37 L243.61,698.63 L245.08,698.88 L246.54,699.13 L248.01,699.36 L249.47,699.59 L250.94,699.82 L252.41,700.03 L253.87,700.24 L255.34,700.44 L256.81,700.64 L258.27,700.83 L259.74,701.02 L261.21,701.20 L262.67,701.38 L264.14,701.55 L265.61,701.72 L267.07,701.88 L268.54,702.04 L270.01,702.19 L271.47,702.34 L272.94,702.49 L274.41,702.64 L276.46,702.83 L278.72,703.04 L280.98,703.24 L283.24,703.43 L285.50,703.62 L287.75,703.80 L290.01,703.97 L292.27,704.14 L294.53,704.30 L296.79,704.46 L299.04,704.61 L301.30,704.76 L303.56,704.90 L305.82,705.04 L308.08,705.18 L310.33,705.31 L312.59,705.44 L314.85,705.56 L317.11,705.68 L319.37,705.80 L321.63,705.91 L323.88,706.02 L326.14,706.13 L328.40,706.24 L330.66,706.34 L332.92,706.44 L335.17,706.54 L337.43,706.63 L339.69,706.72 L341.95,706.82 L344.21,706.90 L346.47,706.99 L348.72,707.07 L350.98,707.16 L353.24,707.24 L355.50,707.32 L357.76,707.39 L360.01,707.47 L362.27,707.54 L364.53,707.61 L366.79,707.68 L369.05,707.75 L371.31,707.82 L373.56,707.89 L375.82,707.95 L378.08,708.02 L380.34,708.08 L382.60,708.14 L384.85,708.20 L387.11,708.26 L389.37,708.32 L391.63,708.37 L393.89,708.43 L396.15,708.48 L398.40,708.53 L400.66,708.59 L402.92,708.64 L405.18,708.69 L407.44,708.74 L409.69,708.79 L411.95,708.84 L414.21,708.88 L416.47,708.93 L418.73,708.97 L420.98,709.02 L423.24,709.06 L425.50,709.11 L427.76,709.15 L430.02,709.19 L432.28,709.23 L434.53,709.27 L436.79,709.31 L439.05,709.35 L441.31,709.39 L443.57,709.43 L445.82,709.46 L448.08,709.50 L450.34,709.54 L452.60,709.57 L454.86,709.61 L457.12,709.64 L459.37,709.68 L461.63,709.71 L463.89,709.74 L466.15,709.78 L468.41,709.81 L470.66,709.84 L472.92,709.87 L475.18,709.90 L477.44,709.93 L479.70,709.96 L481.96,709.99 L484.21,710.02 L486.47,710.05 L488.73,710.08 L490.99,710.11 L493.25,710.13 L495.50,710.16 L497.76,710.19 L500.02,710.21 L502.28,710.24 L504.54,710.27 L506.80,710.29 L509.05,710.32 L511.31,710.34 L513.57,710.37 L515.83,710.39 L518.09,710.41 L520.34,710.44 L522.60,710.46 L524.86,710.48 L527.12,710.51 L529.38,710.53 L531.64,710.55 L533.89,710.57 L536.15,710.60 L538.41,710.62 L540.67,710.64 L542.93,710.66 L545.18,710.68 L547.44,710.70 L549.70,710.72 L551.96,710.74 L554.22,710.76 L556.47,710.78 L558.73,710.80 L560.99,710.82 L563.25,710.84 L565.51,710.86 L567.77,710.88 L570.02,710.89 L572.28,710.91 L574.54,710.93 L576.80,710.95 L579.06,710.96 L581.31,710.98 L583.57,711.00 L585.83,711.02 L588.09,711.03 L590.35,711.05 L592.61,711.07 L594.86,711.08 L597.12,711.10 L599.38,711.11 L601.64,711.13 L603.90,711.15 L606.15,711.16 L608.41,711.18 L610.67,711.19 L612.93,711.21 L615.19,711.22 L617.45,711.24 L619.70,711.25 L621.96,711.27 L624.22,711.28 L626.48,711.29 L628.74,711.31 L630.99,711.32 L633.25,711.34 L635.51,711.35 L637.77,711.36 L640.03,711.38 L642.29,711.39 L644.54,711.40 L646.80,711.42 L649.06,711.43 L651.32,711.44 L653.58,711.45 L655.83,711.47 L658.09,711.48 L660.35,711.49 L662.61,711.50 L664.87,711.52 L667.12,711.53 L669.38,711.54 L671.64,711.55 L673.90,711.56 L676.16,711.58 L678.42,711.59 L680.67,711.60 L682.93,711.61 L685.19,711.62 L687.45,711.63 L689.71,711.64 L691.96,711.65 L694.22,711.67 L696.48,711.68 L698.74,711.69 L701.00,711.70 L703.26,711.71 L705.51,711.72 L707.77,711.73 L710.03,711.74 L712.29,711.75 L714.55,711.76 L716.80,711.77 L719.06,711.78 L721.32,711.79 L723.58,711.80 L725.84,711.81" fill="none" stroke="#0000FF" stroke-width="2.8" stroke-dasharray="10.4 16.75" stroke-dashoffset="18.09" stroke-linecap="round"/><path d="M725.84,711.81 L727.47,711.81 L729.10,711.82 L730.73,711.83 L732.36,711.84 L733.99,711.84 L735.62,711.85 L737.25,711.86 L738.88,711.86 L740.51,711.87 L742.14,711.88 L743.77,711.88 L745.40,711.89 L747.03,711.90 L748.66,711.90 L750.29,711.91 L751.92,711.91 L753.55,711.92 L755.18,711.93 L756.81,711.93 L758.44,711.94 L760.07,711.95 L761.70,711.95 L763.34,711.96 L764.97,711.96 L766.60,711.97 L768.23,711.98 L769.86,711.98 L771.49,711.99 L773.12,711.99 L774.75,712.00 L776.38,712.01 L778.01,712.01 L779.64,712.02 L781.27,712.02 L782.90,712.03 L784.53,712.04 L786.16,712.04 L787.79,712.05 L789.42,712.05 L791.05,712.06 L792.68,712.06 L794.31,712.07 L795.94,712.07 L797.57,712.08 L799.20,712.09 L800.83,712.09 L802.46,712.10 L804.09,712.10 L805.72,712.11 L807.35,712.11 L808.98,712.12 L810.62,712.12 L812.25,712.13 L813.88,712.13 L815.51,712.14 L817.14,712.14 L818.77,712.15 L820.40,712.15 L822.03,712.16 L823.66,712.16 L825.29,712.17 L826.92,712.17 L828.55,712.18 L830.18,712.18 L831.81,712.19 L833.44,712.19 L835.07,712.20 L836.70,712.20 L838.33,712.21 L839.96,712.21 L841.59,712.22 L843.22,712.22 L844.85,712.23 L846.48,712.23 L848.11,712.24 L849.74,712.24 L851.37,712.25 L853.00,712.25 L854.63,712.26 L856.26,712.26 L857.89,712.27 L859.53,712.27 L861.16,712.28 L862.79,712.28 L864.42,712.28 L866.05,712.29 L867.68,712.29 L869.31,712.30 L870.94,712.30 L872.57,712.31 L874.20,712.31 L875.83,712.32 L877.46,712.32 L879.09,712.32 L880.72,712.33 L882.35,712.33 L883.98,712.34 L885.61,712.34 L887.24,712.35 L888.87,712.35 L890.50,712.35 L892.13,712.36 L893.76,712.36 L895.39,712.37 L897.02,712.37 L898.65,712.37 L900.28,712.38 L901.91,712.38 L903.54,712.39 L905.17,712.39 L906.81,712.39 L908.44,712.40 L910.07,712.40 L911.70,712.41 L913.33,712.41 L914.96,712.41 L916.59,712.42 L918.22,712.42 L919.85,712.43 L921.48,712.43 L923.11,712.43 L924.74,712.44 L926.37,712.44 L928.00,712.45 L929.63,712.45 L931.26,712.45 L932.89,712.46 L934.52,712.46 L936.15,712.46 L937.78,712.47 L939.41,712.47 L941.04,712.48 L942.67,712.48 L944.30,712.48 L945.93,712.49 L947.56,712.49 L949.19,712.49 L950.82,712.50 L952.45,712.50 L954.09,712.50 L955.72,712.51 L957.35,712.51 L958.98,712.52 L960.61,712.52 L962.24,712.52 L963.87,712.53 L965.50,712.53 L967.13,712.53 L968.76,712.54 L969.57,712.54" fill="none" stroke="#0000FF" stroke-width="2.8" stroke-dasharray="10.4 16.75" stroke-linecap="round"/>
</g>
<rect x="130.7" y="14.4" width="867.8" height="698.8000000000001" fill="none" stroke="#000" stroke-width="2.6"/>
<path d="M159.63,713.20L159.63,699.40M275.33,713.20L275.33,699.40M391.04,713.20L391.04,699.40M506.75,713.20L506.75,699.40M622.45,713.20L622.45,699.40M738.16,713.20L738.16,699.40M853.87,713.20L853.87,699.40M969.57,713.20L969.57,699.40M217.48,713.20L217.48,706.50M333.19,713.20L333.19,706.50M448.89,713.20L448.89,706.50M564.60,713.20L564.60,706.50M680.31,713.20L680.31,706.50M796.01,713.20L796.01,706.50M911.72,713.20L911.72,706.50M159.63,14.40L159.63,28.20M275.33,14.40L275.33,28.20M391.04,14.40L391.04,28.20M506.75,14.40L506.75,28.20M622.45,14.40L622.45,28.20M738.16,14.40L738.16,28.20M853.87,14.40L853.87,28.20M969.57,14.40L969.57,28.20M217.48,14.40L217.48,21.10M333.19,14.40L333.19,21.10M448.89,14.40L448.89,21.10M564.60,14.40L564.60,21.10M680.31,14.40L680.31,21.10M796.01,14.40L796.01,21.10M911.72,14.40L911.72,21.10M130.70,596.73L144.50,596.73M130.70,480.27L144.50,480.27M130.70,363.80L144.50,363.80M130.70,247.33L144.50,247.33M130.70,130.87L144.50,130.87M130.70,689.91L137.40,689.91M130.70,666.61L137.40,666.61M130.70,643.32L137.40,643.32M130.70,620.03L137.40,620.03M130.70,573.44L137.40,573.44M130.70,550.15L137.40,550.15M130.70,526.85L137.40,526.85M130.70,503.56L137.40,503.56M130.70,456.97L137.40,456.97M130.70,433.68L137.40,433.68M130.70,410.39L137.40,410.39M130.70,387.09L137.40,387.09M130.70,340.51L137.40,340.51M130.70,317.21L137.40,317.21M130.70,293.92L137.40,293.92M130.70,270.63L137.40,270.63M130.70,224.04L137.40,224.04M130.70,200.75L137.40,200.75M130.70,177.45L137.40,177.45M130.70,154.16L137.40,154.16M130.70,107.57L137.40,107.57M130.70,84.28L137.40,84.28M130.70,60.99L137.40,60.99M130.70,37.69L137.40,37.69M998.50,596.73L984.70,596.73M998.50,480.27L984.70,480.27M998.50,363.80L984.70,363.80M998.50,247.33L984.70,247.33M998.50,130.87L984.70,130.87M998.50,689.91L991.80,689.91M998.50,666.61L991.80,666.61M998.50,643.32L991.80,643.32M998.50,620.03L991.80,620.03M998.50,573.44L991.80,573.44M998.50,550.15L991.80,550.15M998.50,526.85L991.80,526.85M998.50,503.56L991.80,503.56M998.50,456.97L991.80,456.97M998.50,433.68L991.80,433.68M998.50,410.39L991.80,410.39M998.50,387.09L991.80,387.09M998.50,340.51L991.80,340.51M998.50,317.21L991.80,317.21M998.50,293.92L991.80,293.92M998.50,270.63L991.80,270.63M998.50,224.04L991.80,224.04M998.50,200.75L991.80,200.75M998.50,177.45L991.80,177.45M998.50,154.16L991.80,154.16M998.50,107.57L991.80,107.57M998.50,84.28L991.80,84.28M998.50,60.99L991.80,60.99M998.50,37.69L991.80,37.69" stroke="#000" stroke-width="2.6" fill="none"/>
<text x="115.2" y="725.2" font-family="Liberation Serif" font-size="40" text-anchor="end">0.0</text>
<text x="115.2" y="608.7" font-family="Liberation Serif" font-size="40" text-anchor="end">0.5</text>
<text x="115.2" y="492.3" font-family="Liberation Serif" font-size="40" text-anchor="end">1.0</text>
<text x="115.2" y="375.8" font-family="Liberation Serif" font-size="40" text-anchor="end">1.5</text>
<text x="115.2" y="259.3" font-family="Liberation Serif" font-size="40" text-anchor="end">2.0</text>
<text x="115.2" y="142.9" font-family="Liberation Serif" font-size="40" text-anchor="end">2.5</text>
<text x="115.2" y="26.4" font-family="Liberation Serif" font-size="40" text-anchor="end">3.0</text>
<rect x="639.1" y="58.8" width="331.4" height="360.4" fill="#fff" stroke="none"/>
<g clip-path="url(#clipi0)">
<rect x="652.09" y="93.51" width="13.00" height="13.00" fill="#000000"/>
<rect x="691.08" y="227.69" width="13.00" height="13.00" fill="#000000"/>
<rect x="925.01" y="349.27" width="13.00" height="13.00" fill="#000000"/>
<circle cx="658.59" cy="221.94" r="7.50" fill="#FF0000"/>
<circle cx="697.58" cy="310.48" r="7.50" fill="#FF0000"/>
<circle cx="931.51" cy="392.29" r="7.50" fill="#FF0000"/>
<path d="M658.59,259.11 L667.69,274.87 L649.49,274.87Z" fill="#00FF00"/>
<path d="M697.58,329.99 L706.68,345.75 L688.48,345.75Z" fill="#00FF00"/>
<path d="M931.51,393.54 L940.61,409.30 L922.41,409.30Z" fill="#00FF00"/>
<path d="M649.49,283.02 L667.69,283.02 L658.59,298.78Z" fill="#0000FF"/>
<path d="M688.48,346.57 L706.68,346.57 L697.58,362.33Z" fill="#0000FF"/>
<path d="M922.41,401.59 L940.61,401.59 L931.51,417.35Z" fill="#0000FF"/>
<path d="M658.59,99.59 L658.95,101.82 L659.31,104.01 L659.66,106.17 L660.02,108.30 L660.37,110.40 L660.73,112.47 L661.08,114.51 L661.44,116.52 L661.79,118.50 L662.15,120.45 L662.51,122.38 L662.86,124.28 L663.22,126.15 L663.57,128.00 L663.93,129.82 L664.28,131.62 L664.64,133.40 L665.00,135.15 L665.35,136.87 L665.71,138.58 L666.06,140.26 L666.42,141.93 L666.77,143.57 L667.13,145.19 L667.48,146.79 L667.84,148.36 L668.20,149.92 L668.55,151.46 L668.91,152.98 L669.26,154.49 L669.62,155.97 L669.97,157.44 L670.33,158.89 L670.69,160.32 L671.04,161.73 L671.40,163.13 L671.75,164.51 L672.46,167.22 L673.17,169.87 L673.89,172.46 L674.60,175.00 L675.31,177.47 L676.02,179.90 L676.73,182.27 L677.44,184.58 L678.15,186.85 L678.86,189.08 L679.58,191.25 L680.29,193.38 L681.00,195.47 L681.71,197.51 L682.42,199.52 L683.13,201.48 L683.84,203.41 L684.55,205.29 L685.27,207.15 L685.98,208.96 L686.69,210.75 L687.40,212.50 L688.11,214.21 L688.82,215.90 L689.53,217.55 L690.24,219.18 L690.96,220.77 L691.67,222.34 L692.38,223.88 L693.09,225.39 L693.80,226.88 L694.51,228.34 L695.22,229.78 L695.93,231.19 L696.65,232.58 L697.36,233.95 L698.07,235.29 L698.78,236.62 L699.49,237.92 L700.20,239.20 L700.91,240.46 L701.62,241.70 L702.69,243.52 L703.76,245.30 L704.82,247.04 L705.89,248.75 L706.96,250.41 L708.03,252.04 L709.09,253.63 L710.16,255.19 L711.23,256.71 L712.29,258.20 L713.36,259.66 L714.43,261.09 L715.49,262.49 L716.56,263.87 L717.63,265.21 L718.69,266.53 L719.76,267.82 L720.83,269.09 L721.89,270.33 L722.96,271.55 L724.03,272.75 L725.10,273.92 L726.16,275.07 L727.23,276.21 L728.30,277.32 L729.36,278.41 L730.43,279.48 L731.50,280.53 L732.56,281.56 L733.63,282.58 L734.70,283.57 L735.76,284.55 L736.83,285.52 L737.90,286.46 L738.96,287.40 L740.39,288.61 L741.81,289.81 L743.23,290.97 L744.65,292.11 L746.08,293.23 L747.50,294.32 L748.92,295.40 L750.34,296.45 L751.77,297.47 L753.19,298.48 L754.61,299.47 L756.03,300.44 L757.46,301.38 L758.88,302.32 L760.30,303.23 L761.72,304.12 L763.15,305.00 L764.57,305.87 L765.99,306.71 L767.41,307.54 L768.84,308.36 L770.26,309.16 L771.68,309.95 L773.10,310.72 L774.53,311.48 L775.95,312.23 L777.37,312.97 L778.79,313.69 L780.22,314.40 L781.64,315.10 L783.06,315.78 L784.48,316.46 L785.91,317.12 L787.33,317.77 L788.75,318.42 L790.17,319.05 L791.60,319.67 L793.02,320.29 L794.44,320.89 L795.86,321.48 L797.29,322.07 L798.71,322.64 L800.13,323.21 L801.55,323.77 L802.98,324.32 L804.40,324.86 L805.82,325.40 L807.24,325.92 L808.67,326.44 L810.09,326.96 L811.51,327.46 L812.93,327.96 L814.36,328.45 L815.78,328.93 L817.20,329.41 L818.62,329.88 L820.05,330.34 L821.47,330.80 L822.89,331.25 L824.31,331.70 L825.74,332.14 L827.16,332.57 L828.58,333.00 L830.00,333.42 L831.43,333.84 L832.85,334.25 L834.27,334.66 L835.69,335.06 L837.12,335.45 L838.54,335.85 L839.96,336.23 L841.38,336.61 L842.81,336.99 L844.23,337.36 L845.65,337.73 L847.07,338.10 L848.50,338.45 L849.92,338.81 L851.34,339.16 L852.76,339.51 L854.19,339.85 L855.61,340.19 L857.03,340.52 L858.45,340.85 L859.88,341.18 L861.30,341.50 L862.72,341.82 L864.14,342.14 L865.57,342.45 L866.99,342.76 L868.41,343.06 L869.83,343.37 L871.26,343.67 L872.68,343.96 L874.10,344.25 L875.52,344.54 L876.95,344.83 L878.37,345.11 L879.79,345.39 L881.21,345.67 L882.64,345.94 L884.06,346.21 L885.48,346.48 L886.90,346.75 L888.33,347.01 L889.75,347.27 L891.17,347.53 L892.59,347.78 L894.02,348.04 L895.44,348.29 L896.86,348.53 L898.28,348.78 L899.71,349.02 L901.13,349.26 L902.55,349.50 L903.97,349.74 L905.40,349.97 L906.82,350.20 L908.24,350.43 L909.66,350.66 L911.09,350.88 L912.51,351.10 L913.93,351.32 L915.35,351.54 L916.78,351.76 L918.20,351.97 L919.62,352.18 L921.04,352.39 L922.47,352.60 L923.89,352.81 L925.31,353.01 L926.73,353.22 L928.16,353.42 L929.58,353.62 L931.00,353.81 L932.42,354.01 L933.84,354.20 L935.27,354.40 L936.69,354.59 L938.11,354.78 L939.53,354.96 L940.96,355.15 L942.38,355.33 L943.80,355.51 L945.22,355.70 L946.65,355.87 L948.07,356.05 L949.49,356.23 L950.91,356.40 L952.34,356.58 L953.76,356.75 L955.18,356.92 L956.60,357.09 L958.03,357.26 L959.45,357.42 L960.87,357.59 L962.29,357.75 L963.72,357.91 L965.14,358.07 L966.56,358.23 L967.98,358.39 L969.41,358.55 L970.83,358.71 L972.25,358.86 L973.67,359.01 L975.10,359.17 L976.52,359.32 L977.94,359.47 L978.30,359.51" fill="none" stroke="#000000" stroke-width="2" stroke-dasharray="6.7 11.65" stroke-dashoffset="0.15" stroke-linecap="round"/>
<path d="M658.59,218.53 L658.95,220.17 L659.31,221.79 L659.66,223.38 L660.02,224.94 L660.37,226.48 L660.73,227.99 L661.08,229.48 L661.44,230.95 L661.79,232.39 L662.15,233.81 L662.51,235.21 L662.86,236.59 L663.57,239.29 L664.28,241.90 L665.00,244.44 L665.71,246.90 L666.42,249.30 L667.13,251.63 L667.84,253.89 L668.55,256.10 L669.26,258.24 L669.97,260.33 L670.69,262.36 L671.40,264.34 L672.11,266.27 L672.82,268.16 L673.53,269.99 L674.24,271.78 L674.95,273.53 L675.66,275.23 L676.38,276.90 L677.09,278.53 L677.80,280.11 L678.51,281.67 L679.22,283.18 L679.93,284.67 L680.64,286.12 L681.35,287.54 L682.07,288.93 L682.78,290.29 L683.49,291.62 L684.20,292.92 L684.91,294.19 L685.62,295.44 L686.33,296.67 L687.40,298.46 L688.47,300.20 L689.53,301.88 L690.60,303.52 L691.67,305.12 L692.73,306.66 L693.80,308.17 L694.87,309.63 L695.93,311.06 L697.00,312.45 L698.07,313.80 L699.13,315.12 L700.20,316.40 L701.27,317.65 L702.34,318.87 L703.40,320.06 L704.47,321.22 L705.54,322.36 L706.60,323.47 L707.67,324.55 L708.74,325.60 L709.80,326.64 L710.87,327.65 L711.94,328.63 L713.00,329.60 L714.07,330.54 L715.49,331.77 L716.92,332.96 L718.34,334.12 L719.76,335.25 L721.18,336.35 L722.61,337.41 L724.03,338.45 L725.45,339.47 L726.87,340.45 L728.30,341.41 L729.72,342.35 L731.14,343.27 L732.56,344.16 L733.99,345.03 L735.41,345.88 L736.83,346.71 L738.25,347.52 L739.68,348.31 L741.10,349.08 L742.52,349.84 L743.94,350.58 L745.37,351.30 L746.79,352.01 L748.21,352.70 L749.63,353.38 L751.06,354.04 L752.48,354.69 L753.90,355.33 L755.32,355.95 L756.75,356.56 L758.17,357.16 L759.59,357.74 L761.01,358.32 L762.44,358.88 L763.86,359.43 L765.28,359.98 L766.70,360.51 L768.13,361.03 L769.55,361.54 L770.97,362.05 L772.39,362.54 L773.82,363.02 L775.24,363.50 L776.66,363.97 L778.08,364.43 L779.51,364.88 L780.93,365.32 L782.35,365.76 L783.77,366.19 L785.20,366.61 L786.62,367.02 L788.04,367.43 L789.46,367.83 L790.89,368.22 L792.31,368.61 L793.73,368.99 L795.15,369.37 L796.58,369.74 L798.00,370.10 L799.42,370.46 L800.84,370.81 L802.27,371.16 L803.69,371.50 L805.11,371.84 L806.53,372.17 L807.96,372.50 L809.38,372.82 L810.80,373.14 L812.22,373.45 L813.64,373.76 L815.07,374.06 L816.49,374.36 L817.91,374.66 L819.33,374.95 L820.76,375.24 L822.18,375.52 L823.60,375.80 L825.02,376.08 L826.45,376.35 L827.87,376.62 L829.29,376.88 L830.71,377.14 L832.14,377.40 L833.56,377.65 L834.98,377.90 L836.40,378.15 L837.83,378.40 L839.25,378.64 L840.67,378.88 L842.09,379.11 L843.52,379.34 L844.94,379.57 L846.36,379.80 L847.78,380.02 L849.21,380.25 L850.63,380.46 L852.05,380.68 L853.47,380.89 L854.90,381.10 L856.32,381.31 L857.74,381.52 L859.16,381.72 L860.59,381.92 L862.01,382.12 L863.43,382.32 L864.85,382.51 L866.28,382.70 L867.70,382.89 L869.12,383.08 L870.54,383.27 L871.97,383.45 L873.39,383.63 L874.81,383.81 L876.23,383.99 L877.66,384.16 L879.08,384.34 L880.50,384.51 L881.92,384.68 L883.35,384.85 L884.77,385.01 L886.19,385.18 L887.61,385.34 L889.04,385.50 L890.46,385.66 L891.88,385.82 L893.30,385.98 L894.73,386.13 L896.15,386.28 L897.57,386.44 L898.99,386.59 L900.42,386.73 L901.84,386.88 L903.26,387.03 L904.68,387.17 L906.11,387.31 L907.53,387.46 L908.95,387.60 L910.37,387.73 L911.80,387.87 L913.22,388.01 L914.64,388.14 L916.06,388.28 L917.49,388.41 L918.91,388.54 L920.33,388.67 L921.75,388.80 L923.18,388.92 L924.60,389.05 L926.02,389.17 L927.44,389.30 L928.87,389.42 L930.29,389.54 L931.71,389.66 L933.13,389.78 L934.56,389.90 L935.98,390.02 L937.40,390.13 L938.82,390.25 L940.25,390.36 L941.67,390.48 L943.09,390.59 L944.51,390.70 L945.94,390.81 L947.36,390.92 L948.78,391.03 L950.20,391.14 L951.63,391.24 L953.05,391.35 L954.47,391.45 L955.89,391.56 L957.32,391.66 L958.74,391.76 L960.16,391.86 L961.58,391.96 L963.01,392.06 L964.43,392.16 L965.85,392.26 L967.27,392.36 L968.70,392.45 L970.12,392.55 L971.54,392.64 L972.96,392.74 L974.39,392.83 L975.81,392.92 L977.23,393.02 L978.30,393.09" fill="none" stroke="#FF0000" stroke-width="2" stroke-dasharray="6.7 11.65" stroke-dashoffset="15.26" stroke-linecap="round"/>
<path d="M658.59,266.29 L659.31,268.86 L660.02,271.34 L660.73,273.74 L661.44,276.06 L662.15,278.31 L662.86,280.49 L663.57,282.61 L664.28,284.66 L665.00,286.65 L665.71,288.58 L666.42,290.46 L667.13,292.28 L667.84,294.05 L668.55,295.78 L669.26,297.46 L669.97,299.09 L670.69,300.68 L671.40,302.23 L672.11,303.74 L672.82,305.21 L673.53,306.64 L674.24,308.04 L674.95,309.40 L675.66,310.74 L676.38,312.03 L677.09,313.30 L677.80,314.54 L678.86,316.35 L679.93,318.09 L681.00,319.78 L682.07,321.41 L683.13,322.99 L684.20,324.52 L685.27,326.00 L686.33,327.43 L687.40,328.83 L688.47,330.18 L689.53,331.49 L690.60,332.76 L691.67,334.00 L692.73,335.20 L693.80,336.37 L694.87,337.51 L695.93,338.61 L697.00,339.69 L698.07,340.74 L699.13,341.76 L700.20,342.76 L701.27,343.73 L702.34,344.67 L703.76,345.90 L705.18,347.08 L706.60,348.23 L708.03,349.35 L709.45,350.42 L710.87,351.47 L712.29,352.48 L713.72,353.47 L715.14,354.43 L716.56,355.35 L717.98,356.26 L719.41,357.14 L720.83,357.99 L722.25,358.82 L723.67,359.63 L725.10,360.42 L726.52,361.18 L727.94,361.93 L729.36,362.66 L730.79,363.37 L732.21,364.06 L733.63,364.74 L735.05,365.40 L736.48,366.04 L737.90,366.67 L739.32,367.29 L740.74,367.89 L742.17,368.47 L743.59,369.05 L745.01,369.61 L746.43,370.16 L747.86,370.69 L749.28,371.22 L750.70,371.73 L752.12,372.24 L753.54,372.73 L754.97,373.21 L756.39,373.68 L757.81,374.15 L759.23,374.60 L760.66,375.04 L762.08,375.48 L763.50,375.91 L764.92,376.33 L766.35,376.74 L767.77,377.14 L769.19,377.54 L770.61,377.93 L772.04,378.31 L773.46,378.69 L774.88,379.05 L776.30,379.41 L777.73,379.77 L779.15,380.12 L780.57,380.46 L781.99,380.80 L783.42,381.13 L784.84,381.46 L786.26,381.78 L787.68,382.09 L789.11,382.40 L790.53,382.70 L791.95,383.00 L793.37,383.30 L794.80,383.59 L796.22,383.87 L797.64,384.16 L799.06,384.43 L800.49,384.70 L801.91,384.97 L803.33,385.24 L804.75,385.50 L806.18,385.75 L807.60,386.01 L809.02,386.25 L810.44,386.50 L811.87,386.74 L813.29,386.98 L814.71,387.21 L816.13,387.44 L817.56,387.67 L818.98,387.90 L820.40,388.12 L821.82,388.34 L823.25,388.55 L824.67,388.76 L826.09,388.97 L827.51,389.18 L828.94,389.38 L830.36,389.59 L831.78,389.78 L833.20,389.98 L834.63,390.17 L836.05,390.36 L837.47,390.55 L838.89,390.74 L840.32,390.92 L841.74,391.10 L843.16,391.28 L844.58,391.46 L846.01,391.63 L847.43,391.81 L848.85,391.98 L850.27,392.14 L851.70,392.31 L853.12,392.48 L854.54,392.64 L855.96,392.80 L857.39,392.96 L858.81,393.11 L860.23,393.27 L861.65,393.42 L863.08,393.57 L864.50,393.72 L865.92,393.87 L867.34,394.02 L868.77,394.16 L870.19,394.30 L871.61,394.44 L873.03,394.58 L874.46,394.72 L875.88,394.86 L877.30,394.99 L878.72,395.13 L880.15,395.26 L881.57,395.39 L882.99,395.52 L884.41,395.65 L885.84,395.77 L887.26,395.90 L888.68,396.02 L890.10,396.15 L891.53,396.27 L892.95,396.39 L894.37,396.51 L895.79,396.62 L897.22,396.74 L898.64,396.86 L900.06,396.97 L901.48,397.08 L902.91,397.19 L904.33,397.31 L905.75,397.42 L907.17,397.52 L908.60,397.63 L910.02,397.74 L911.44,397.84 L912.86,397.95 L914.29,398.05 L915.71,398.15 L917.13,398.26 L918.55,398.36 L919.98,398.46 L921.40,398.56 L922.82,398.65 L924.24,398.75 L925.67,398.85 L927.09,398.94 L928.51,399.04 L929.93,399.13 L931.36,399.22 L932.78,399.31 L934.20,399.40 L935.62,399.49 L937.05,399.58 L938.47,399.67 L939.89,399.76 L941.31,399.85 L942.74,399.93 L944.16,400.02 L945.58,400.10 L947.00,400.19 L948.43,400.27 L949.85,400.35 L951.27,400.43 L952.69,400.52 L954.12,400.60 L955.54,400.68 L956.96,400.75 L958.38,400.83 L959.81,400.91 L961.23,400.99 L962.65,401.06 L964.07,401.14 L965.50,401.22 L966.92,401.29 L968.34,401.36 L969.76,401.44 L971.19,401.51 L972.61,401.58 L974.03,401.66 L975.45,401.73 L976.88,401.80 L978.30,401.87" fill="none" stroke="#00FF00" stroke-width="2" stroke-dasharray="6.7 11.65" stroke-dashoffset="17.38" stroke-linecap="round"/>
<path d="M658.59,284.34 L659.31,286.98 L660.02,289.51 L660.73,291.96 L661.44,294.31 L662.15,296.57 L662.86,298.76 L663.57,300.87 L664.28,302.91 L665.00,304.88 L665.71,306.78 L666.42,308.62 L667.13,310.41 L667.84,312.13 L668.55,313.80 L669.26,315.43 L669.97,317.00 L670.69,318.52 L671.40,320.01 L672.11,321.44 L672.82,322.84 L673.53,324.20 L674.24,325.52 L674.95,326.81 L675.66,328.06 L676.73,329.87 L677.80,331.61 L678.86,333.29 L679.93,334.90 L681.00,336.46 L682.07,337.96 L683.13,339.40 L684.20,340.80 L685.27,342.15 L686.33,343.45 L687.40,344.71 L688.47,345.93 L689.53,347.11 L690.60,348.25 L691.67,349.36 L692.73,350.43 L693.80,351.47 L694.87,352.49 L695.93,353.47 L697.00,354.42 L698.42,355.65 L699.85,356.83 L701.27,357.97 L702.69,359.07 L704.11,360.13 L705.54,361.16 L706.96,362.15 L708.38,363.10 L709.80,364.03 L711.23,364.93 L712.65,365.79 L714.07,366.64 L715.49,367.45 L716.92,368.24 L718.34,369.01 L719.76,369.75 L721.18,370.47 L722.61,371.18 L724.03,371.86 L725.45,372.52 L726.87,373.17 L728.30,373.80 L729.72,374.41 L731.14,375.00 L732.56,375.58 L733.99,376.15 L735.41,376.70 L736.83,377.23 L738.25,377.76 L739.68,378.27 L741.10,378.77 L742.52,379.25 L743.94,379.73 L745.37,380.19 L746.79,380.65 L748.21,381.09 L749.63,381.52 L751.06,381.95 L752.48,382.36 L753.90,382.77 L755.32,383.17 L756.75,383.55 L758.17,383.93 L759.59,384.31 L761.01,384.67 L762.44,385.03 L763.86,385.38 L765.28,385.72 L766.70,386.06 L768.13,386.39 L769.55,386.71 L770.97,387.03 L772.39,387.34 L773.82,387.64 L775.24,387.94 L776.66,388.24 L778.08,388.53 L779.51,388.81 L780.93,389.09 L782.35,389.36 L783.77,389.63 L785.20,389.89 L786.62,390.15 L788.04,390.41 L789.46,390.66 L790.89,390.90 L792.31,391.15 L793.73,391.38 L795.15,391.62 L796.58,391.85 L798.00,392.07 L799.42,392.30 L800.84,392.52 L802.27,392.73 L803.69,392.94 L805.11,393.15 L806.53,393.36 L807.96,393.56 L809.38,393.76 L810.80,393.96 L812.22,394.15 L813.64,394.34 L815.07,394.53 L816.49,394.72 L817.91,394.90 L819.33,395.08 L820.76,395.25 L822.18,395.43 L823.60,395.60 L825.02,395.77 L826.45,395.94 L827.87,396.10 L829.29,396.27 L830.71,396.43 L832.14,396.59 L833.56,396.74 L834.98,396.90 L836.40,397.05 L837.83,397.20 L839.25,397.35 L840.67,397.49 L842.09,397.64 L843.52,397.78 L844.94,397.92 L846.36,398.06 L847.78,398.20 L849.21,398.33 L850.63,398.47 L852.05,398.60 L853.47,398.73 L854.90,398.86 L856.32,398.98 L857.74,399.11 L859.16,399.23 L860.59,399.36 L862.01,399.48 L863.43,399.60 L864.85,399.72 L866.28,399.83 L867.70,399.95 L869.12,400.06 L870.54,400.18 L871.97,400.29 L873.39,400.40 L874.81,400.51 L876.23,400.61 L877.66,400.72 L879.08,400.83 L880.50,400.93 L881.92,401.03 L883.35,401.14 L884.77,401.24 L886.19,401.34 L887.61,401.44 L889.04,401.53 L890.46,401.63 L891.88,401.73 L893.30,401.82 L894.73,401.92 L896.15,402.01 L897.57,402.10 L898.99,402.19 L900.42,402.28 L901.84,402.37 L903.26,402.46 L904.68,402.54 L906.11,402.63 L907.53,402.72 L908.95,402.80 L910.37,402.89 L911.80,402.97 L913.22,403.05 L914.64,403.13 L916.06,403.21 L917.49,403.29 L918.91,403.37 L920.33,403.45 L921.75,403.53 L923.18,403.60 L924.60,403.68 L926.02,403.76 L927.44,403.83 L928.87,403.90 L930.29,403.98 L931.71,404.05 L933.13,404.12 L934.56,404.19 L935.98,404.26 L937.40,404.33 L938.82,404.40 L940.25,404.47 L941.67,404.54 L943.09,404.61 L944.51,404.67 L945.94,404.74 L947.36,404.81 L948.78,404.87 L950.20,404.94 L951.63,405.00 L953.05,405.06 L954.47,405.13 L955.89,405.19 L957.32,405.25 L958.74,405.31 L960.16,405.37 L961.58,405.43 L963.01,405.49 L964.43,405.55 L965.85,405.61 L967.27,405.67 L968.70,405.73 L970.12,405.78 L971.54,405.84 L972.96,405.90 L974.39,405.95 L975.81,406.01 L977.23,406.06 L978.30,406.11" fill="none" stroke="#0000FF" stroke-width="2" stroke-dasharray="6.7 11.65" stroke-dashoffset="13.78" stroke-linecap="round"/>
</g>
<rect x="639.1" y="58.8" width="331.4" height="360.4" fill="none" stroke="#000" stroke-width="1.6"/>
<path d="M658.59,419.20L658.59,412.80M736.57,419.20L736.57,412.80M814.55,419.20L814.55,412.80M892.52,419.20L892.52,412.80M970.50,419.20L970.50,412.80M697.58,419.20L697.58,416.00M775.56,419.20L775.56,416.00M853.54,419.20L853.54,416.00M931.51,419.20L931.51,416.00M658.59,58.80L658.59,65.20M736.57,58.80L736.57,65.20M814.55,58.80L814.55,65.20M892.52,58.80L892.52,65.20M970.50,58.80L970.50,65.20M697.58,58.80L697.58,62.00M775.56,58.80L775.56,62.00M853.54,58.80L853.54,62.00M931.51,58.80L931.51,62.00M639.10,359.13L645.50,359.13M639.10,299.07L645.50,299.07M639.10,239.00L645.50,239.00M639.10,178.93L645.50,178.93M639.10,118.87L645.50,118.87M639.10,407.19L642.30,407.19M639.10,395.17L642.30,395.17M639.10,383.16L642.30,383.16M639.10,371.15L642.30,371.15M639.10,347.12L642.30,347.12M639.10,335.11L642.30,335.11M639.10,323.09L642.30,323.09M639.10,311.08L642.30,311.08M639.10,287.05L642.30,287.05M639.10,275.04L642.30,275.04M639.10,263.03L642.30,263.03M639.10,251.01L642.30,251.01M639.10,226.99L642.30,226.99M639.10,214.97L642.30,214.97M639.10,202.96L642.30,202.96M639.10,190.95L642.30,190.95M639.10,166.92L642.30,166.92M639.10,154.91L642.30,154.91M639.10,142.89L642.30,142.89M639.10,130.88L642.30,130.88M639.10,106.85L642.30,106.85M639.10,94.84L642.30,94.84M639.10,82.83L642.30,82.83M639.10,70.81L642.30,70.81M970.50,359.13L964.10,359.13M970.50,299.07L964.10,299.07M970.50,239.00L964.10,239.00M970.50,178.93L964.10,178.93M970.50,118.87L964.10,118.87M970.50,407.19L967.30,407.19M970.50,395.17L967.30,395.17M970.50,383.16L967.30,383.16M970.50,371.15L967.30,371.15M970.50,347.12L967.30,347.12M970.50,335.11L967.30,335.11M970.50,323.09L967.30,323.09M970.50,311.08L967.30,311.08M970.50,287.05L967.30,287.05M970.50,275.04L967.30,275.04M970.50,263.03L967.30,263.03M970.50,251.01L967.30,251.01M970.50,226.99L967.30,226.99M970.50,214.97L967.30,214.97M970.50,202.96L967.30,202.96M970.50,190.95L967.30,190.95M970.50,166.92L967.30,166.92M970.50,154.91L967.30,154.91M970.50,142.89L967.30,142.89M970.50,130.88L967.30,130.88M970.50,106.85L967.30,106.85M970.50,94.84L967.30,94.84M970.50,82.83L967.30,82.83M970.50,70.81L967.30,70.81" stroke="#000" stroke-width="1.6" fill="none"/>
<text x="631.1" y="429.2" font-family="Liberation Serif" font-size="30.5" text-anchor="end">0.0</text>
<text x="631.1" y="369.1" font-family="Liberation Serif" font-size="30.5" text-anchor="end">0.5</text>
<text x="631.1" y="309.1" font-family="Liberation Serif" font-size="30.5" text-anchor="end">1.0</text>
<text x="631.1" y="249.0" font-family="Liberation Serif" font-size="30.5" text-anchor="end">1.5</text>
<text x="631.1" y="188.9" font-family="Liberation Serif" font-size="30.5" text-anchor="end">2.0</text>
<text x="631.1" y="128.9" font-family="Liberation Serif" font-size="30.5" text-anchor="end">2.5</text>
<text x="631.1" y="68.8" font-family="Liberation Serif" font-size="30.5" text-anchor="end">3.0</text>
<text x="658.6" y="450.7" font-family="Liberation Serif" font-size="30.5" text-anchor="middle">0</text>
<text x="736.6" y="450.7" font-family="Liberation Serif" font-size="30.5" text-anchor="middle">2</text>
<text x="814.5" y="450.7" font-family="Liberation Serif" font-size="30.5" text-anchor="middle">4</text>
<text x="892.5" y="450.7" font-family="Liberation Serif" font-size="30.5" text-anchor="middle">6</text>
<text x="970.5" y="450.7" font-family="Liberation Serif" font-size="30.5" text-anchor="middle">8</text>
<text x="2" y="51.0" font-family="Liberation Serif" font-size="54">a)</text>
<text transform="translate(37.2,540.3) rotate(-90)" font-family="Liberation Serif" font-size="53">H<tspan font-size="36" dy="14">2</tspan><tspan dy="-14"> in O</tspan><tspan font-size="36" dy="14">2</tspan><tspan dy="-14"> [vol%]</tspan></text>
<rect x="270.4" y="63.5" width="277.1" height="329" fill="none" stroke="#333" stroke-width="1.1"/>
<text x="273.60" y="108.80" font-family="Liberation Serif" font-size="40" font-style="italic" text-anchor="start">p</text>
<text x="295.00" y="93.80" font-family="Liberation Serif" font-size="28" font-style="normal" text-anchor="start">a</text>
<text x="315.60" y="108.80" font-family="Liberation Serif" font-size="40" font-style="normal" text-anchor="start">=</text>
<text x="350.40" y="108.80" font-family="Liberation Serif" font-size="40" font-style="normal" text-anchor="start">1</text>
<text x="379.50" y="108.80" font-family="Liberation Serif" font-size="39" font-style="normal" text-anchor="start">bar</text>
<text x="273.60" y="165.00" font-family="Liberation Serif" font-size="40" font-style="italic" text-anchor="start">p</text>
<text x="295.00" y="149.80" font-family="Liberation Serif" font-size="28" font-style="normal" text-anchor="start">c</text>
<text x="315.60" y="165.00" font-family="Liberation Serif" font-size="40" font-style="normal" text-anchor="start">=</text>
<text x="350.40" y="165.00" font-family="Liberation Serif" font-size="40" font-style="normal" text-anchor="start">10</text>
<text x="397.00" y="165.00" font-family="Liberation Serif" font-size="39" font-style="normal" text-anchor="start">bar</text>
<rect x="310.00" y="193.40" width="20.00" height="20.00" fill="#000000"/>
<text x="373.00" y="216.50" font-family="Liberation Serif" font-size="40" font-style="normal" text-anchor="start">0.5 A cm</text>
<text x="519.00" y="200.50" font-family="Liberation Serif" font-size="28" font-style="normal" text-anchor="start">-2</text>
<circle cx="320.00" cy="256.75" r="11.50" fill="#FF0000"/>
<text x="375.75" y="270.00" font-family="Liberation Serif" font-size="40" font-style="normal" text-anchor="start">1 A cm</text>
<text x="490.25" y="255.00" font-family="Liberation Serif" font-size="28" font-style="normal" text-anchor="start">-2</text>
<path d="M320.00,295.71 L333.50,319.09 L306.50,319.09Z" fill="#00FF00"/>
<text x="373.00" y="324.50" font-family="Liberation Serif" font-size="40" font-style="normal" text-anchor="start">2 A cm</text>
<text x="490.25" y="309.50" font-family="Liberation Serif" font-size="28" font-style="normal" text-anchor="start">-2</text>
<path d="M306.50,357.06 L333.50,357.06 L320.00,380.44Z" fill="#0000FF"/>
<text x="373.00" y="378.50" font-family="Liberation Serif" font-size="40" font-style="normal" text-anchor="start">3 A cm</text>
<text x="490.25" y="363.50" font-family="Liberation Serif" font-size="28" font-style="normal" text-anchor="start">-2</text>
<defs><clipPath id="clipm741"><rect x="130.7" y="755.8" width="867.8" height="698.8"/></clipPath><clipPath id="clipi741"><rect x="639.1" y="800.1999999999999" width="331.4" height="360.4"/></clipPath></defs>
<g clip-path="url(#clipm741)">
<rect x="149.63" y="892.78" width="20.00" height="20.00" fill="#000000"/>
<rect x="155.41" y="1162.28" width="20.00" height="20.00" fill="#000000"/>
<rect x="190.12" y="1368.90" width="20.00" height="20.00" fill="#000000"/>
<rect x="230.62" y="1397.31" width="20.00" height="20.00" fill="#000000"/>
<rect x="959.57" y="1417.11" width="20.00" height="20.00" fill="#000000"/>
<circle cx="159.63" cy="1087.50" r="11.50" fill="#FF0000"/>
<circle cx="165.41" cy="1263.59" r="11.50" fill="#FF0000"/>
<circle cx="200.12" cy="1406.15" r="11.50" fill="#FF0000"/>
<circle cx="240.62" cy="1425.25" r="11.50" fill="#FF0000"/>
<circle cx="969.57" cy="1437.60" r="11.50" fill="#FF0000"/>
<path d="M159.63,1144.99 L173.13,1168.37 L146.13,1168.37Z" fill="#00FF00"/>
<path d="M165.41,1285.21 L178.91,1308.60 L151.91,1308.60Z" fill="#00FF00"/>
<path d="M200.12,1403.31 L213.62,1426.69 L186.62,1426.69Z" fill="#00FF00"/>
<path d="M240.62,1418.22 L254.12,1441.60 L227.12,1441.60Z" fill="#00FF00"/>
<path d="M969.57,1428.47 L983.07,1451.85 L956.07,1451.85Z" fill="#00FF00"/>
<path d="M146.13,1188.78 L173.13,1188.78 L159.63,1212.16Z" fill="#0000FF"/>
<path d="M151.91,1312.23 L178.91,1312.23 L165.41,1335.62Z" fill="#0000FF"/>
<path d="M186.62,1417.99 L213.62,1417.99 L200.12,1441.37Z" fill="#0000FF"/>
<path d="M227.12,1430.10 L254.12,1430.10 L240.62,1453.48Z" fill="#0000FF"/>
<path d="M956.07,1438.48 L983.07,1438.48 L969.57,1461.87Z" fill="#0000FF"/>
<path d="M159.63,897.21 L159.70,904.78 L159.78,912.14 L159.86,919.30 L159.94,926.27 L160.01,933.06 L160.09,939.66 L160.17,946.10 L160.24,952.37 L160.32,958.48 L160.40,964.44 L160.48,970.25 L160.55,975.92 L160.63,981.46 L160.71,986.86 L160.78,992.14 L160.86,997.29 L160.94,1002.33 L161.02,1007.25 L161.09,1012.06 L161.17,1016.77 L161.25,1021.37 L161.32,1025.87 L161.40,1030.28 L161.48,1034.59 L161.56,1038.82 L161.63,1042.95 L161.71,1047.00 L161.79,1050.97 L161.87,1054.85 L161.94,1058.66 L162.02,1062.40 L162.10,1066.06 L162.17,1069.65 L162.25,1073.17 L162.33,1076.63 L162.41,1080.02 L162.48,1083.34 L162.56,1086.61 L162.64,1089.81 L162.71,1092.96 L162.79,1096.05 L162.87,1099.09 L162.95,1102.07 L163.02,1105.00 L163.10,1107.88 L163.18,1110.71 L163.25,1113.49 L163.33,1116.22 L163.41,1118.91 L163.49,1121.56 L163.56,1124.16 L163.64,1126.71 L163.72,1129.23 L163.79,1131.70 L163.87,1134.14 L163.95,1136.54 L164.03,1138.90 L164.10,1141.22 L164.18,1143.51 L164.26,1145.76 L164.34,1147.98 L164.41,1150.16 L164.49,1152.31 L164.57,1154.43 L164.64,1156.52 L164.72,1158.58 L164.80,1160.60 L164.88,1162.60 L164.95,1164.57 L165.03,1166.51 L165.11,1168.43 L165.18,1170.31 L165.26,1172.17 L165.34,1174.01 L165.42,1175.82 L165.49,1177.60 L165.57,1179.36 L165.65,1181.10 L165.72,1182.81 L165.80,1184.50 L165.88,1186.17 L165.96,1187.82 L166.03,1189.44 L166.11,1191.05 L166.19,1192.63 L166.26,1194.19 L166.34,1195.74 L166.42,1197.26 L166.50,1198.76 L166.57,1200.25 L166.65,1201.72 L166.73,1203.17 L166.81,1204.60 L166.88,1206.01 L167.04,1208.79 L167.19,1211.50 L167.35,1214.15 L167.50,1216.73 L167.65,1219.26 L167.81,1221.73 L167.96,1224.14 L168.12,1226.50 L168.27,1228.81 L168.43,1231.07 L168.58,1233.28 L168.73,1235.44 L168.89,1237.56 L169.04,1239.63 L169.20,1241.66 L169.35,1243.65 L169.51,1245.60 L169.66,1247.51 L169.82,1249.38 L169.97,1251.22 L170.12,1253.02 L170.28,1254.78 L170.43,1256.52 L170.59,1258.22 L170.74,1259.88 L170.90,1261.52 L171.05,1263.13 L171.21,1264.70 L171.36,1266.25 L171.51,1267.78 L171.67,1269.27 L171.82,1270.74 L171.98,1272.18 L172.13,1273.60 L172.36,1275.68 L172.59,1277.71 L172.83,1279.69 L173.06,1281.62 L173.29,1283.50 L173.52,1285.34 L173.75,1287.14 L173.98,1288.89 L174.22,1290.60 L174.45,1292.28 L174.68,1293.91 L174.91,1295.51 L175.14,1297.07 L175.37,1298.60 L175.60,1300.10 L175.84,1301.56 L176.07,1303.00 L176.30,1304.40 L176.61,1306.22 L176.92,1308.00 L177.23,1309.73 L177.53,1311.41 L177.84,1313.05 L178.15,1314.65 L178.46,1316.20 L178.77,1317.72 L179.08,1319.20 L179.39,1320.64 L179.70,1322.05 L180.08,1323.76 L180.47,1325.42 L180.85,1327.04 L181.24,1328.60 L181.63,1330.13 L182.01,1331.61 L182.40,1333.05 L182.78,1334.45 L183.17,1335.82 L183.63,1337.41 L184.10,1338.95 L184.56,1340.44 L185.02,1341.89 L185.49,1343.30 L185.95,1344.66 L186.49,1346.21 L187.03,1347.70 L187.57,1349.14 L188.11,1350.54 L188.65,1351.90 L189.19,1353.21 L189.81,1354.66 L190.43,1356.06 L191.04,1357.42 L191.66,1358.73 L192.35,1360.15 L193.05,1361.52 L193.74,1362.84 L194.44,1364.12 L195.13,1365.36 L195.91,1366.68 L196.68,1367.96 L197.45,1369.19 L198.22,1370.37 L199.07,1371.63 L199.92,1372.84 L200.77,1374.01 L201.69,1375.24 L202.62,1376.42 L203.55,1377.55 L204.47,1378.65 L205.48,1379.78 L206.48,1380.88 L207.48,1381.94 L208.49,1382.95 L209.57,1384.00 L210.65,1385.02 L211.73,1385.99 L212.81,1386.93 L213.97,1387.90 L215.13,1388.83 L216.28,1389.72 L217.44,1390.59 L218.60,1391.42 L219.83,1392.27 L221.07,1393.10 L222.30,1393.89 L223.54,1394.66 L224.77,1395.40 L226.01,1396.11 L227.24,1396.80 L228.56,1397.51 L229.87,1398.19 L231.18,1398.85 L232.49,1399.49 L233.81,1400.10 L235.12,1400.70 L236.43,1401.28 L237.74,1401.84 L239.05,1402.38 L240.44,1402.93 L241.83,1403.47 L243.22,1403.99 L244.61,1404.50 L246.00,1404.99 L247.39,1405.46 L248.78,1405.93 L250.17,1406.37 L251.56,1406.81 L252.95,1407.23 L254.34,1407.64 L255.73,1408.04 L257.12,1408.43 L258.51,1408.81 L259.90,1409.18 L261.28,1409.54 L262.67,1409.89 L264.06,1410.23 L265.45,1410.56 L266.84,1410.89 L268.23,1411.21 L269.62,1411.51 L271.01,1411.82 L272.40,1412.11 L273.79,1412.40 L275.18,1412.68 L277.59,1413.15 L279.85,1413.58 L282.11,1413.99 L284.37,1414.39 L286.62,1414.77 L288.88,1415.14 L291.14,1415.50 L293.40,1415.85 L295.66,1416.18 L297.91,1416.51 L300.17,1416.82 L302.43,1417.13 L304.69,1417.43 L306.95,1417.71 L309.21,1417.99 L311.46,1418.26 L313.72,1418.53 L315.98,1418.78 L318.24,1419.03 L320.50,1419.27 L322.75,1419.51 L325.01,1419.74 L327.27,1419.96 L329.53,1420.18 L331.79,1420.39 L334.05,1420.60 L336.30,1420.80 L338.56,1421.00 L340.82,1421.19 L343.08,1421.38 L345.34,1421.56 L347.59,1421.74 L349.85,1421.92 L352.11,1422.09 L354.37,1422.25 L356.63,1422.42 L358.89,1422.58 L361.14,1422.73 L363.40,1422.88 L365.66,1423.03 L367.92,1423.18 L370.18,1423.32 L372.43,1423.46 L374.69,1423.60 L376.95,1423.74 L379.21,1423.87 L381.47,1424.00 L383.73,1424.12 L385.98,1424.25 L388.24,1424.37 L390.50,1424.49 L392.76,1424.61 L395.02,1424.72 L397.27,1424.83 L399.53,1424.95 L401.79,1425.05 L404.05,1425.16 L406.31,1425.27 L408.57,1425.37 L410.82,1425.47 L413.08,1425.57 L415.34,1425.67 L417.60,1425.76 L419.86,1425.86 L422.11,1425.95 L424.37,1426.04 L426.63,1426.13 L428.89,1426.22 L431.15,1426.31 L433.40,1426.39 L435.66,1426.48 L437.92,1426.56 L440.18,1426.64 L442.44,1426.72 L444.70,1426.80 L446.95,1426.88 L449.21,1426.96 L451.47,1427.03 L453.73,1427.10 L455.99,1427.18 L458.24,1427.25 L460.50,1427.32 L462.76,1427.39 L465.02,1427.46 L467.28,1427.53 L469.54,1427.59 L471.79,1427.66 L474.05,1427.73 L476.31,1427.79 L478.57,1427.85 L480.83,1427.92 L483.08,1427.98 L485.34,1428.04 L487.60,1428.10 L489.86,1428.16 L492.12,1428.22 L494.38,1428.27 L496.63,1428.33 L498.89,1428.39 L501.15,1428.44 L503.41,1428.50 L505.67,1428.55 L507.92,1428.60 L510.18,1428.65 L512.44,1428.71 L514.70,1428.76 L516.96,1428.81 L519.22,1428.86 L521.47,1428.91 L523.73,1428.96 L525.99,1429.00 L528.25,1429.05 L530.51,1429.10 L532.76,1429.15 L535.02,1429.19 L537.28,1429.24 L539.54,1429.28 L541.80,1429.33 L544.05,1429.37 L546.31,1429.41 L548.57,1429.46 L550.83,1429.50 L553.09,1429.54 L555.35,1429.58 L557.60,1429.62 L559.86,1429.66 L562.12,1429.70 L564.38,1429.74 L566.64,1429.78 L568.89,1429.82 L571.15,1429.86 L573.41,1429.90 L575.67,1429.93 L577.93,1429.97 L580.19,1430.01 L582.44,1430.04 L584.70,1430.08 L586.96,1430.11 L589.22,1430.15 L591.48,1430.18 L593.73,1430.22 L595.99,1430.25 L598.25,1430.29 L600.51,1430.32 L602.77,1430.35 L605.03,1430.38 L607.28,1430.42 L609.54,1430.45 L611.80,1430.48 L614.06,1430.51 L616.32,1430.54 L618.57,1430.57 L620.83,1430.60 L623.09,1430.64 L625.35,1430.66 L627.61,1430.69 L629.87,1430.72 L632.12,1430.75 L634.38,1430.78 L636.64,1430.81 L638.90,1430.84 L641.16,1430.87 L643.41,1430.89 L645.67,1430.92 L647.93,1430.95 L650.19,1430.98 L652.45,1431.00 L654.71,1431.03 L656.96,1431.06 L659.22,1431.08 L661.48,1431.11 L663.74,1431.13 L666.00,1431.16 L668.25,1431.18 L670.51,1431.21 L672.77,1431.23 L675.03,1431.26 L677.29,1431.28 L679.54,1431.31 L681.80,1431.33 L684.06,1431.35 L686.32,1431.38 L688.58,1431.40 L690.84,1431.42 L693.09,1431.45 L695.35,1431.47 L697.61,1431.49 L699.87,1431.51 L702.13,1431.54 L704.38,1431.56 L706.64,1431.58 L708.90,1431.60 L711.16,1431.62 L713.42,1431.64 L715.68,1431.66 L717.93,1431.69 L720.19,1431.71 L722.45,1431.73 L724.71,1431.75 L725.84,1431.76" fill="none" stroke="#000000" stroke-width="2.8" stroke-dasharray="10.4 16.75" stroke-dashoffset="23.57" stroke-linecap="round"/><path d="M725.84,1431.76 L727.47,1431.77 L729.10,1431.79 L730.73,1431.80 L732.36,1431.81 L733.99,1431.83 L735.62,1431.84 L737.25,1431.86 L738.88,1431.87 L740.51,1431.89 L742.14,1431.90 L743.77,1431.91 L745.40,1431.93 L747.03,1431.94 L748.66,1431.95 L750.29,1431.97 L751.92,1431.98 L753.55,1431.99 L755.18,1432.01 L756.81,1432.02 L758.44,1432.03 L760.07,1432.05 L761.70,1432.06 L763.34,1432.07 L764.97,1432.09 L766.60,1432.10 L768.23,1432.11 L769.86,1432.12 L771.49,1432.14 L773.12,1432.15 L774.75,1432.16 L776.38,1432.17 L778.01,1432.19 L779.64,1432.20 L781.27,1432.21 L782.90,1432.22 L784.53,1432.23 L786.16,1432.25 L787.79,1432.26 L789.42,1432.27 L791.05,1432.28 L792.68,1432.29 L794.31,1432.31 L795.94,1432.32 L797.57,1432.33 L799.20,1432.34 L800.83,1432.35 L802.46,1432.36 L804.09,1432.37 L805.72,1432.39 L807.35,1432.40 L808.98,1432.41 L810.62,1432.42 L812.25,1432.43 L813.88,1432.44 L815.51,1432.45 L817.14,1432.46 L818.77,1432.47 L820.40,1432.48 L822.03,1432.49 L823.66,1432.51 L825.29,1432.52 L826.92,1432.53 L828.55,1432.54 L830.18,1432.55 L831.81,1432.56 L833.44,1432.57 L835.07,1432.58 L836.70,1432.59 L838.33,1432.60 L839.96,1432.61 L841.59,1432.62 L843.22,1432.63 L844.85,1432.64 L846.48,1432.65 L848.11,1432.66 L849.74,1432.67 L851.37,1432.68 L853.00,1432.69 L854.63,1432.70 L856.26,1432.71 L857.89,1432.72 L859.53,1432.73 L861.16,1432.74 L862.79,1432.75 L864.42,1432.76 L866.05,1432.77 L867.68,1432.78 L869.31,1432.78 L870.94,1432.79 L872.57,1432.80 L874.20,1432.81 L875.83,1432.82 L877.46,1432.83 L879.09,1432.84 L880.72,1432.85 L882.35,1432.86 L883.98,1432.87 L885.61,1432.88 L887.24,1432.88 L888.87,1432.89 L890.50,1432.90 L892.13,1432.91 L893.76,1432.92 L895.39,1432.93 L897.02,1432.94 L898.65,1432.95 L900.28,1432.95 L901.91,1432.96 L903.54,1432.97 L905.17,1432.98 L906.81,1432.99 L908.44,1433.00 L910.07,1433.01 L911.70,1433.01 L913.33,1433.02 L914.96,1433.03 L916.59,1433.04 L918.22,1433.05 L919.85,1433.05 L921.48,1433.06 L923.11,1433.07 L924.74,1433.08 L926.37,1433.09 L928.00,1433.10 L929.63,1433.10 L931.26,1433.11 L932.89,1433.12 L934.52,1433.13 L936.15,1433.13 L937.78,1433.14 L939.41,1433.15 L941.04,1433.16 L942.67,1433.17 L944.30,1433.17 L945.93,1433.18 L947.56,1433.19 L949.19,1433.20 L950.82,1433.20 L952.45,1433.21 L954.09,1433.22 L955.72,1433.23 L957.35,1433.23 L958.98,1433.24 L960.61,1433.25 L962.24,1433.26 L963.87,1433.26 L965.50,1433.27 L967.13,1433.28 L968.76,1433.28 L969.57,1433.29" fill="none" stroke="#000000" stroke-width="2.8" stroke-dasharray="10.4 16.75" stroke-linecap="round"/><circle cx="969.57" cy="1433.29" r="1.5" fill="#000"/>
<path d="M159.63,1087.47 L159.70,1092.19 L159.78,1096.80 L159.86,1101.28 L159.94,1105.66 L160.01,1109.92 L160.09,1114.08 L160.17,1118.14 L160.24,1122.09 L160.32,1125.96 L160.40,1129.73 L160.48,1133.42 L160.55,1137.02 L160.63,1140.54 L160.71,1143.98 L160.78,1147.34 L160.86,1150.63 L160.94,1153.85 L161.02,1157.00 L161.09,1160.08 L161.17,1163.10 L161.25,1166.05 L161.32,1168.95 L161.40,1171.78 L161.48,1174.56 L161.56,1177.28 L161.63,1179.95 L161.71,1182.56 L161.79,1185.13 L161.87,1187.64 L161.94,1190.11 L162.02,1192.53 L162.10,1194.91 L162.17,1197.24 L162.25,1199.53 L162.33,1201.77 L162.41,1203.98 L162.48,1206.15 L162.56,1208.28 L162.64,1210.37 L162.71,1212.42 L162.79,1214.44 L162.87,1216.43 L162.95,1218.38 L163.02,1220.30 L163.10,1222.18 L163.18,1224.04 L163.25,1225.86 L163.33,1227.66 L163.41,1229.42 L163.49,1231.16 L163.56,1232.87 L163.64,1234.56 L163.72,1236.21 L163.79,1237.85 L163.87,1239.45 L163.95,1241.03 L164.03,1242.59 L164.10,1244.13 L164.18,1245.64 L164.26,1247.13 L164.34,1248.59 L164.41,1250.04 L164.49,1251.46 L164.64,1254.25 L164.80,1256.96 L164.95,1259.60 L165.11,1262.16 L165.26,1264.65 L165.42,1267.08 L165.57,1269.44 L165.72,1271.75 L165.88,1273.99 L166.03,1276.17 L166.19,1278.30 L166.34,1280.38 L166.50,1282.41 L166.65,1284.39 L166.81,1286.32 L166.96,1288.21 L167.11,1290.05 L167.27,1291.85 L167.42,1293.61 L167.58,1295.33 L167.73,1297.01 L167.89,1298.65 L168.04,1300.26 L168.19,1301.84 L168.35,1303.38 L168.50,1304.89 L168.66,1306.36 L168.81,1307.81 L168.97,1309.23 L169.20,1311.30 L169.43,1313.31 L169.66,1315.26 L169.89,1317.15 L170.12,1319.00 L170.36,1320.79 L170.59,1322.53 L170.82,1324.22 L171.05,1325.86 L171.28,1327.47 L171.51,1329.03 L171.75,1330.55 L171.98,1332.03 L172.21,1333.48 L172.44,1334.89 L172.75,1336.71 L173.06,1338.48 L173.37,1340.19 L173.68,1341.84 L173.98,1343.45 L174.29,1345.01 L174.60,1346.52 L174.91,1347.99 L175.22,1349.41 L175.53,1350.79 L175.91,1352.47 L176.30,1354.09 L176.69,1355.65 L177.07,1357.16 L177.46,1358.63 L177.84,1360.04 L178.23,1361.41 L178.69,1363.00 L179.16,1364.53 L179.62,1366.00 L180.08,1367.43 L180.54,1368.80 L181.09,1370.34 L181.63,1371.83 L182.17,1373.25 L182.71,1374.63 L183.25,1375.95 L183.86,1377.40 L184.48,1378.80 L185.10,1380.14 L185.72,1381.43 L186.41,1382.82 L187.11,1384.15 L187.80,1385.43 L188.57,1386.79 L189.34,1388.09 L190.12,1389.34 L190.89,1390.53 L191.74,1391.79 L192.59,1392.99 L193.44,1394.14 L194.36,1395.34 L195.29,1396.49 L196.21,1397.58 L197.22,1398.72 L198.22,1399.80 L199.22,1400.84 L200.31,1401.90 L201.39,1402.92 L202.47,1403.89 L203.55,1404.82 L204.71,1405.77 L205.86,1406.68 L207.02,1407.55 L208.18,1408.38 L209.41,1409.23 L210.65,1410.05 L211.88,1410.82 L213.12,1411.57 L214.35,1412.29 L215.67,1413.01 L216.98,1413.71 L218.29,1414.38 L219.60,1415.03 L220.91,1415.65 L222.23,1416.24 L223.54,1416.81 L224.85,1417.36 L226.16,1417.89 L227.55,1418.44 L228.94,1418.96 L230.33,1419.46 L231.72,1419.94 L233.11,1420.41 L234.50,1420.86 L235.89,1421.30 L237.28,1421.72 L238.67,1422.13 L240.06,1422.53 L241.45,1422.91 L242.84,1423.28 L244.23,1423.64 L245.62,1423.99 L247.00,1424.32 L248.39,1424.65 L249.78,1424.97 L251.17,1425.28 L252.56,1425.58 L253.95,1425.87 L255.34,1426.16 L256.73,1426.43 L258.12,1426.70 L259.59,1426.98 L261.05,1427.25 L262.52,1427.51 L263.99,1427.76 L265.45,1428.01 L266.92,1428.25 L268.39,1428.49 L269.85,1428.72 L271.32,1428.94 L272.79,1429.16 L274.25,1429.37 L276.46,1429.68 L278.72,1429.99 L280.98,1430.28 L283.24,1430.57 L285.50,1430.85 L287.75,1431.11 L290.01,1431.37 L292.27,1431.62 L294.53,1431.86 L296.79,1432.09 L299.04,1432.32 L301.30,1432.54 L303.56,1432.75 L305.82,1432.96 L308.08,1433.16 L310.33,1433.35 L312.59,1433.54 L314.85,1433.72 L317.11,1433.90 L319.37,1434.08 L321.63,1434.25 L323.88,1434.41 L326.14,1434.57 L328.40,1434.73 L330.66,1434.88 L332.92,1435.03 L335.17,1435.17 L337.43,1435.31 L339.69,1435.45 L341.95,1435.58 L344.21,1435.71 L346.47,1435.84 L348.72,1435.97 L350.98,1436.09 L353.24,1436.21 L355.50,1436.33 L357.76,1436.44 L360.01,1436.55 L362.27,1436.66 L364.53,1436.77 L366.79,1436.87 L369.05,1436.98 L371.31,1437.08 L373.56,1437.17 L375.82,1437.27 L378.08,1437.36 L380.34,1437.46 L382.60,1437.55 L384.85,1437.64 L387.11,1437.72 L389.37,1437.81 L391.63,1437.89 L393.89,1437.97 L396.15,1438.06 L398.40,1438.13 L400.66,1438.21 L402.92,1438.29 L405.18,1438.36 L407.44,1438.44 L409.69,1438.51 L411.95,1438.58 L414.21,1438.65 L416.47,1438.72 L418.73,1438.79 L420.98,1438.85 L423.24,1438.92 L425.50,1438.98 L427.76,1439.05 L430.02,1439.11 L432.28,1439.17 L434.53,1439.23 L436.79,1439.29 L439.05,1439.35 L441.31,1439.40 L443.57,1439.46 L445.82,1439.51 L448.08,1439.57 L450.34,1439.62 L452.60,1439.68 L454.86,1439.73 L457.12,1439.78 L459.37,1439.83 L461.63,1439.88 L463.89,1439.93 L466.15,1439.98 L468.41,1440.03 L470.66,1440.07 L472.92,1440.12 L475.18,1440.17 L477.44,1440.21 L479.70,1440.25 L481.96,1440.30 L484.21,1440.34 L486.47,1440.38 L488.73,1440.43 L490.99,1440.47 L493.25,1440.51 L495.50,1440.55 L497.76,1440.59 L500.02,1440.63 L502.28,1440.67 L504.54,1440.71 L506.80,1440.74 L509.05,1440.78 L511.31,1440.82 L513.57,1440.86 L515.83,1440.89 L518.09,1440.93 L520.34,1440.96 L522.60,1441.00 L524.86,1441.03 L527.12,1441.07 L529.38,1441.10 L531.64,1441.13 L533.89,1441.16 L536.15,1441.20 L538.41,1441.23 L540.67,1441.26 L542.93,1441.29 L545.18,1441.32 L547.44,1441.35 L549.70,1441.38 L551.96,1441.41 L554.22,1441.44 L556.47,1441.47 L558.73,1441.50 L560.99,1441.53 L563.25,1441.56 L565.51,1441.58 L567.77,1441.61 L570.02,1441.64 L572.28,1441.67 L574.54,1441.69 L576.80,1441.72 L579.06,1441.75 L581.31,1441.77 L583.57,1441.80 L585.83,1441.82 L588.09,1441.85 L590.35,1441.87 L592.61,1441.90 L594.86,1441.92 L597.12,1441.94 L599.38,1441.97 L601.64,1441.99 L603.90,1442.02 L606.15,1442.04 L608.41,1442.06 L610.67,1442.08 L612.93,1442.11 L615.19,1442.13 L617.45,1442.15 L619.70,1442.17 L621.96,1442.19 L624.22,1442.21 L626.48,1442.24 L628.74,1442.26 L630.99,1442.28 L633.25,1442.30 L635.51,1442.32 L637.77,1442.34 L640.03,1442.36 L642.29,1442.38 L644.54,1442.40 L646.80,1442.42 L649.06,1442.44 L651.32,1442.46 L653.58,1442.47 L655.83,1442.49 L658.09,1442.51 L660.35,1442.53 L662.61,1442.55 L664.87,1442.57 L667.12,1442.58 L669.38,1442.60 L671.64,1442.62 L673.90,1442.64 L676.16,1442.65 L678.42,1442.67 L680.67,1442.69 L682.93,1442.71 L685.19,1442.72 L687.45,1442.74 L689.71,1442.75 L691.96,1442.77 L694.22,1442.79 L696.48,1442.80 L698.74,1442.82 L701.00,1442.83 L703.26,1442.85 L705.51,1442.87 L707.77,1442.88 L710.03,1442.90 L712.29,1442.91 L714.55,1442.93 L716.80,1442.94 L719.06,1442.96 L721.32,1442.97 L723.58,1442.99 L725.84,1443.00" fill="none" stroke="#FF0000" stroke-width="2.8" stroke-dasharray="10.4 16.75" stroke-dashoffset="0.85" stroke-linecap="round"/><path d="M725.84,1443.00 L727.47,1443.01 L729.10,1443.02 L730.73,1443.03 L732.36,1443.04 L733.99,1443.05 L735.62,1443.06 L737.25,1443.07 L738.88,1443.08 L740.51,1443.09 L742.14,1443.10 L743.77,1443.11 L745.40,1443.12 L747.03,1443.13 L748.66,1443.14 L750.29,1443.15 L751.92,1443.16 L753.55,1443.17 L755.18,1443.18 L756.81,1443.19 L758.44,1443.20 L760.07,1443.21 L761.70,1443.21 L763.34,1443.22 L764.97,1443.23 L766.60,1443.24 L768.23,1443.25 L769.86,1443.26 L771.49,1443.27 L773.12,1443.28 L774.75,1443.29 L776.38,1443.29 L778.01,1443.30 L779.64,1443.31 L781.27,1443.32 L782.90,1443.33 L784.53,1443.34 L786.16,1443.35 L787.79,1443.35 L789.42,1443.36 L791.05,1443.37 L792.68,1443.38 L794.31,1443.39 L795.94,1443.40 L797.57,1443.40 L799.20,1443.41 L800.83,1443.42 L802.46,1443.43 L804.09,1443.44 L805.72,1443.45 L807.35,1443.45 L808.98,1443.46 L810.62,1443.47 L812.25,1443.48 L813.88,1443.48 L815.51,1443.49 L817.14,1443.50 L818.77,1443.51 L820.40,1443.52 L822.03,1443.52 L823.66,1443.53 L825.29,1443.54 L826.92,1443.55 L828.55,1443.55 L830.18,1443.56 L831.81,1443.57 L833.44,1443.58 L835.07,1443.58 L836.70,1443.59 L838.33,1443.60 L839.96,1443.60 L841.59,1443.61 L843.22,1443.62 L844.85,1443.63 L846.48,1443.63 L848.11,1443.64 L849.74,1443.65 L851.37,1443.65 L853.00,1443.66 L854.63,1443.67 L856.26,1443.67 L857.89,1443.68 L859.53,1443.69 L861.16,1443.70 L862.79,1443.70 L864.42,1443.71 L866.05,1443.72 L867.68,1443.72 L869.31,1443.73 L870.94,1443.74 L872.57,1443.74 L874.20,1443.75 L875.83,1443.75 L877.46,1443.76 L879.09,1443.77 L880.72,1443.77 L882.35,1443.78 L883.98,1443.79 L885.61,1443.79 L887.24,1443.80 L888.87,1443.81 L890.50,1443.81 L892.13,1443.82 L893.76,1443.82 L895.39,1443.83 L897.02,1443.84 L898.65,1443.84 L900.28,1443.85 L901.91,1443.86 L903.54,1443.86 L905.17,1443.87 L906.81,1443.87 L908.44,1443.88 L910.07,1443.89 L911.70,1443.89 L913.33,1443.90 L914.96,1443.90 L916.59,1443.91 L918.22,1443.91 L919.85,1443.92 L921.48,1443.93 L923.11,1443.93 L924.74,1443.94 L926.37,1443.94 L928.00,1443.95 L929.63,1443.95 L931.26,1443.96 L932.89,1443.97 L934.52,1443.97 L936.15,1443.98 L937.78,1443.98 L939.41,1443.99 L941.04,1443.99 L942.67,1444.00 L944.30,1444.00 L945.93,1444.01 L947.56,1444.01 L949.19,1444.02 L950.82,1444.03 L952.45,1444.03 L954.09,1444.04 L955.72,1444.04 L957.35,1444.05 L958.98,1444.05 L960.61,1444.06 L962.24,1444.06 L963.87,1444.07 L965.50,1444.07 L967.13,1444.08 L968.76,1444.08 L969.57,1444.09" fill="none" stroke="#FF0000" stroke-width="2.8" stroke-dasharray="10.4 16.75" stroke-linecap="round"/>
<path d="M159.63,1161.33 L159.70,1164.79 L159.78,1168.16 L159.86,1171.46 L159.94,1174.68 L160.01,1177.83 L160.09,1180.91 L160.17,1183.92 L160.24,1186.86 L160.32,1189.74 L160.40,1192.56 L160.48,1195.32 L160.55,1198.02 L160.63,1200.67 L160.71,1203.26 L160.78,1205.79 L160.86,1208.28 L160.94,1210.71 L161.02,1213.10 L161.09,1215.44 L161.17,1217.74 L161.25,1219.99 L161.32,1222.20 L161.40,1224.37 L161.48,1226.49 L161.56,1228.58 L161.63,1230.63 L161.71,1232.64 L161.79,1234.62 L161.87,1236.56 L161.94,1238.46 L162.02,1240.34 L162.10,1242.18 L162.17,1243.99 L162.25,1245.76 L162.33,1247.51 L162.41,1249.23 L162.48,1250.92 L162.56,1252.58 L162.64,1254.21 L162.71,1255.82 L162.79,1257.40 L162.87,1258.96 L162.95,1260.49 L163.02,1262.00 L163.10,1263.48 L163.18,1264.95 L163.25,1266.38 L163.33,1267.80 L163.49,1270.57 L163.64,1273.26 L163.79,1275.87 L163.95,1278.40 L164.10,1280.87 L164.26,1283.26 L164.41,1285.59 L164.57,1287.85 L164.72,1290.05 L164.88,1292.20 L165.03,1294.29 L165.18,1296.32 L165.34,1298.31 L165.49,1300.24 L165.65,1302.13 L165.80,1303.97 L165.96,1305.76 L166.11,1307.51 L166.26,1309.22 L166.42,1310.90 L166.57,1312.53 L166.73,1314.12 L166.88,1315.68 L167.04,1317.20 L167.19,1318.69 L167.35,1320.15 L167.50,1321.58 L167.73,1323.66 L167.96,1325.68 L168.19,1327.63 L168.43,1329.53 L168.66,1331.37 L168.89,1333.15 L169.12,1334.88 L169.35,1336.56 L169.58,1338.20 L169.82,1339.79 L170.05,1341.33 L170.28,1342.84 L170.51,1344.30 L170.74,1345.72 L171.05,1347.57 L171.36,1349.35 L171.67,1351.06 L171.98,1352.73 L172.29,1354.34 L172.59,1355.90 L172.90,1357.40 L173.21,1358.87 L173.52,1360.28 L173.91,1362.00 L174.29,1363.65 L174.68,1365.24 L175.06,1366.77 L175.45,1368.26 L175.84,1369.69 L176.22,1371.07 L176.69,1372.67 L177.15,1374.21 L177.61,1375.69 L178.07,1377.11 L178.54,1378.48 L179.08,1380.02 L179.62,1381.50 L180.16,1382.91 L180.70,1384.27 L181.24,1385.58 L181.86,1387.02 L182.47,1388.39 L183.09,1389.71 L183.79,1391.13 L184.48,1392.48 L185.18,1393.78 L185.87,1395.02 L186.64,1396.34 L187.41,1397.60 L188.19,1398.80 L189.04,1400.07 L189.88,1401.27 L190.73,1402.42 L191.66,1403.62 L192.59,1404.76 L193.51,1405.85 L194.52,1406.98 L195.52,1408.05 L196.52,1409.07 L197.60,1410.12 L198.68,1411.12 L199.77,1412.07 L200.92,1413.04 L202.08,1413.97 L203.24,1414.85 L204.40,1415.69 L205.63,1416.55 L206.87,1417.37 L208.10,1418.15 L209.34,1418.90 L210.57,1419.62 L211.88,1420.35 L213.20,1421.04 L214.51,1421.71 L215.82,1422.34 L217.13,1422.96 L218.44,1423.54 L219.76,1424.11 L221.07,1424.65 L222.46,1425.20 L223.85,1425.73 L225.24,1426.24 L226.63,1426.73 L228.02,1427.20 L229.41,1427.66 L230.80,1428.10 L232.18,1428.52 L233.57,1428.93 L234.96,1429.32 L236.35,1429.70 L237.74,1430.07 L239.13,1430.43 L240.52,1430.77 L241.91,1431.11 L243.30,1431.43 L244.69,1431.75 L246.08,1432.05 L247.47,1432.35 L248.86,1432.64 L250.25,1432.92 L251.64,1433.19 L253.03,1433.45 L254.49,1433.72 L255.96,1433.98 L257.43,1434.24 L258.89,1434.49 L260.36,1434.73 L261.83,1434.96 L263.29,1435.19 L264.76,1435.42 L266.23,1435.63 L267.69,1435.85 L269.16,1436.05 L270.62,1436.25 L272.09,1436.45 L273.56,1436.64 L275.02,1436.83 L276.46,1437.00 L278.72,1437.28 L280.98,1437.54 L283.24,1437.79 L285.50,1438.04 L287.75,1438.27 L290.01,1438.50 L292.27,1438.73 L294.53,1438.94 L296.79,1439.15 L299.04,1439.35 L301.30,1439.54 L303.56,1439.73 L305.82,1439.92 L308.08,1440.09 L310.33,1440.27 L312.59,1440.44 L314.85,1440.60 L317.11,1440.76 L319.37,1440.91 L321.63,1441.06 L323.88,1441.21 L326.14,1441.35 L328.40,1441.49 L330.66,1441.63 L332.92,1441.76 L335.17,1441.89 L337.43,1442.01 L339.69,1442.14 L341.95,1442.26 L344.21,1442.37 L346.47,1442.49 L348.72,1442.60 L350.98,1442.71 L353.24,1442.81 L355.50,1442.92 L357.76,1443.02 L360.01,1443.12 L362.27,1443.22 L364.53,1443.31 L366.79,1443.41 L369.05,1443.50 L371.31,1443.59 L373.56,1443.67 L375.82,1443.76 L378.08,1443.84 L380.34,1443.93 L382.60,1444.01 L384.85,1444.09 L387.11,1444.16 L389.37,1444.24 L391.63,1444.32 L393.89,1444.39 L396.15,1444.46 L398.40,1444.53 L400.66,1444.60 L402.92,1444.67 L405.18,1444.74 L407.44,1444.80 L409.69,1444.87 L411.95,1444.93 L414.21,1444.99 L416.47,1445.05 L418.73,1445.11 L420.98,1445.17 L423.24,1445.23 L425.50,1445.29 L427.76,1445.35 L430.02,1445.40 L432.28,1445.46 L434.53,1445.51 L436.79,1445.56 L439.05,1445.61 L441.31,1445.67 L443.57,1445.72 L445.82,1445.77 L448.08,1445.81 L450.34,1445.86 L452.60,1445.91 L454.86,1445.96 L457.12,1446.00 L459.37,1446.05 L461.63,1446.09 L463.89,1446.14 L466.15,1446.18 L468.41,1446.22 L470.66,1446.26 L472.92,1446.31 L475.18,1446.35 L477.44,1446.39 L479.70,1446.43 L481.96,1446.47 L484.21,1446.50 L486.47,1446.54 L488.73,1446.58 L490.99,1446.62 L493.25,1446.65 L495.50,1446.69 L497.76,1446.73 L500.02,1446.76 L502.28,1446.80 L504.54,1446.83 L506.80,1446.86 L509.05,1446.90 L511.31,1446.93 L513.57,1446.96 L515.83,1447.00 L518.09,1447.03 L520.34,1447.06 L522.60,1447.09 L524.86,1447.12 L527.12,1447.15 L529.38,1447.18 L531.64,1447.21 L533.89,1447.24 L536.15,1447.27 L538.41,1447.30 L540.67,1447.33 L542.93,1447.35 L545.18,1447.38 L547.44,1447.41 L549.70,1447.44 L551.96,1447.46 L554.22,1447.49 L556.47,1447.51 L558.73,1447.54 L560.99,1447.57 L563.25,1447.59 L565.51,1447.62 L567.77,1447.64 L570.02,1447.66 L572.28,1447.69 L574.54,1447.71 L576.80,1447.74 L579.06,1447.76 L581.31,1447.78 L583.57,1447.81 L585.83,1447.83 L588.09,1447.85 L590.35,1447.87 L592.61,1447.89 L594.86,1447.92 L597.12,1447.94 L599.38,1447.96 L601.64,1447.98 L603.90,1448.00 L606.15,1448.02 L608.41,1448.04 L610.67,1448.06 L612.93,1448.08 L615.19,1448.10 L617.45,1448.12 L619.70,1448.14 L621.96,1448.16 L624.22,1448.18 L626.48,1448.20 L628.74,1448.22 L630.99,1448.24 L633.25,1448.25 L635.51,1448.27 L637.77,1448.29 L640.03,1448.31 L642.29,1448.33 L644.54,1448.34 L646.80,1448.36 L649.06,1448.38 L651.32,1448.40 L653.58,1448.41 L655.83,1448.43 L658.09,1448.45 L660.35,1448.46 L662.61,1448.48 L664.87,1448.49 L667.12,1448.51 L669.38,1448.53 L671.64,1448.54 L673.90,1448.56 L676.16,1448.57 L678.42,1448.59 L680.67,1448.60 L682.93,1448.62 L685.19,1448.63 L687.45,1448.65 L689.71,1448.66 L691.96,1448.68 L694.22,1448.69 L696.48,1448.71 L698.74,1448.72 L701.00,1448.73 L703.26,1448.75 L705.51,1448.76 L707.77,1448.78 L710.03,1448.79 L712.29,1448.80 L714.55,1448.82 L716.80,1448.83 L719.06,1448.84 L721.32,1448.86 L723.58,1448.87 L725.84,1448.88" fill="none" stroke="#00FF00" stroke-width="2.8" stroke-dasharray="10.4 16.75" stroke-dashoffset="3.06" stroke-linecap="round"/><path d="M725.84,1448.88 L727.47,1448.89 L729.10,1448.90 L730.73,1448.91 L732.36,1448.92 L733.99,1448.93 L735.62,1448.94 L737.25,1448.95 L738.88,1448.96 L740.51,1448.96 L742.14,1448.97 L743.77,1448.98 L745.40,1448.99 L747.03,1449.00 L748.66,1449.01 L750.29,1449.02 L751.92,1449.02 L753.55,1449.03 L755.18,1449.04 L756.81,1449.05 L758.44,1449.06 L760.07,1449.07 L761.70,1449.07 L763.34,1449.08 L764.97,1449.09 L766.60,1449.10 L768.23,1449.11 L769.86,1449.12 L771.49,1449.12 L773.12,1449.13 L774.75,1449.14 L776.38,1449.15 L778.01,1449.15 L779.64,1449.16 L781.27,1449.17 L782.90,1449.18 L784.53,1449.19 L786.16,1449.19 L787.79,1449.20 L789.42,1449.21 L791.05,1449.22 L792.68,1449.22 L794.31,1449.23 L795.94,1449.24 L797.57,1449.25 L799.20,1449.25 L800.83,1449.26 L802.46,1449.27 L804.09,1449.27 L805.72,1449.28 L807.35,1449.29 L808.98,1449.30 L810.62,1449.30 L812.25,1449.31 L813.88,1449.32 L815.51,1449.32 L817.14,1449.33 L818.77,1449.34 L820.40,1449.34 L822.03,1449.35 L823.66,1449.36 L825.29,1449.36 L826.92,1449.37 L828.55,1449.38 L830.18,1449.38 L831.81,1449.39 L833.44,1449.40 L835.07,1449.40 L836.70,1449.41 L838.33,1449.42 L839.96,1449.42 L841.59,1449.43 L843.22,1449.44 L844.85,1449.44 L846.48,1449.45 L848.11,1449.46 L849.74,1449.46 L851.37,1449.47 L853.00,1449.47 L854.63,1449.48 L856.26,1449.49 L857.89,1449.49 L859.53,1449.50 L861.16,1449.51 L862.79,1449.51 L864.42,1449.52 L866.05,1449.52 L867.68,1449.53 L869.31,1449.54 L870.94,1449.54 L872.57,1449.55 L874.20,1449.55 L875.83,1449.56 L877.46,1449.56 L879.09,1449.57 L880.72,1449.58 L882.35,1449.58 L883.98,1449.59 L885.61,1449.59 L887.24,1449.60 L888.87,1449.60 L890.50,1449.61 L892.13,1449.62 L893.76,1449.62 L895.39,1449.63 L897.02,1449.63 L898.65,1449.64 L900.28,1449.64 L901.91,1449.65 L903.54,1449.65 L905.17,1449.66 L906.81,1449.66 L908.44,1449.67 L910.07,1449.68 L911.70,1449.68 L913.33,1449.69 L914.96,1449.69 L916.59,1449.70 L918.22,1449.70 L919.85,1449.71 L921.48,1449.71 L923.11,1449.72 L924.74,1449.72 L926.37,1449.73 L928.00,1449.73 L929.63,1449.74 L931.26,1449.74 L932.89,1449.75 L934.52,1449.75 L936.15,1449.76 L937.78,1449.76 L939.41,1449.77 L941.04,1449.77 L942.67,1449.78 L944.30,1449.78 L945.93,1449.79 L947.56,1449.79 L949.19,1449.80 L950.82,1449.80 L952.45,1449.81 L954.09,1449.81 L955.72,1449.82 L957.35,1449.82 L958.98,1449.83 L960.61,1449.83 L962.24,1449.83 L963.87,1449.84 L965.50,1449.84 L967.13,1449.85 L968.76,1449.85 L969.57,1449.86" fill="none" stroke="#00FF00" stroke-width="2.8" stroke-dasharray="10.4 16.75" stroke-linecap="round"/>
<path d="M159.63,1192.31 L159.70,1195.66 L159.78,1198.92 L159.86,1202.11 L159.94,1205.21 L160.01,1208.24 L160.09,1211.20 L160.17,1214.08 L160.24,1216.90 L160.32,1219.65 L160.40,1222.34 L160.48,1224.97 L160.55,1227.54 L160.63,1230.05 L160.71,1232.51 L160.78,1234.92 L160.86,1237.27 L160.94,1239.57 L161.02,1241.82 L161.09,1244.03 L161.17,1246.19 L161.25,1248.31 L161.32,1250.39 L161.40,1252.42 L161.48,1254.41 L161.56,1256.37 L161.63,1258.28 L161.71,1260.16 L161.79,1262.00 L161.87,1263.81 L161.94,1265.59 L162.02,1267.33 L162.10,1269.04 L162.17,1270.72 L162.25,1272.37 L162.33,1273.99 L162.41,1275.58 L162.48,1277.14 L162.56,1278.68 L162.64,1280.19 L162.71,1281.67 L162.79,1283.13 L162.87,1284.56 L163.02,1287.36 L163.18,1290.07 L163.33,1292.69 L163.49,1295.22 L163.64,1297.68 L163.79,1300.07 L163.95,1302.38 L164.10,1304.62 L164.26,1306.80 L164.41,1308.91 L164.57,1310.97 L164.72,1312.97 L164.88,1314.91 L165.03,1316.80 L165.18,1318.64 L165.34,1320.43 L165.49,1322.17 L165.65,1323.87 L165.80,1325.53 L165.96,1327.14 L166.11,1328.72 L166.26,1330.25 L166.42,1331.75 L166.57,1333.21 L166.73,1334.64 L166.96,1336.72 L167.19,1338.73 L167.42,1340.67 L167.65,1342.54 L167.89,1344.36 L168.12,1346.11 L168.35,1347.82 L168.58,1349.46 L168.81,1351.06 L169.04,1352.61 L169.28,1354.12 L169.51,1355.58 L169.74,1356.99 L170.05,1358.82 L170.36,1360.58 L170.66,1362.28 L170.97,1363.91 L171.28,1365.49 L171.59,1367.02 L171.90,1368.49 L172.21,1369.91 L172.59,1371.62 L172.98,1373.27 L173.37,1374.85 L173.75,1376.37 L174.14,1377.83 L174.52,1379.24 L174.99,1380.86 L175.45,1382.42 L175.91,1383.91 L176.38,1385.34 L176.84,1386.71 L177.38,1388.24 L177.92,1389.70 L178.46,1391.10 L179.00,1392.44 L179.62,1393.91 L180.24,1395.30 L180.85,1396.63 L181.47,1397.90 L182.17,1399.27 L182.86,1400.57 L183.56,1401.81 L184.33,1403.12 L185.10,1404.37 L185.87,1405.56 L186.72,1406.80 L187.57,1407.98 L188.50,1409.20 L189.42,1410.36 L190.35,1411.46 L191.35,1412.59 L192.35,1413.67 L193.36,1414.68 L194.44,1415.72 L195.52,1416.71 L196.60,1417.65 L197.76,1418.60 L198.92,1419.50 L200.07,1420.36 L201.23,1421.18 L202.47,1422.01 L203.70,1422.79 L204.94,1423.54 L206.17,1424.26 L207.48,1424.98 L208.80,1425.67 L210.11,1426.33 L211.42,1426.95 L212.73,1427.55 L214.05,1428.13 L215.36,1428.68 L216.75,1429.23 L218.14,1429.76 L219.53,1430.27 L220.91,1430.76 L222.30,1431.23 L223.69,1431.68 L225.08,1432.11 L226.47,1432.53 L227.86,1432.93 L229.25,1433.32 L230.64,1433.69 L232.03,1434.05 L233.42,1434.39 L234.81,1434.73 L236.20,1435.05 L237.59,1435.36 L238.98,1435.66 L240.37,1435.96 L241.76,1436.24 L243.15,1436.51 L244.53,1436.78 L246.00,1437.05 L247.47,1437.32 L248.93,1437.57 L250.40,1437.82 L251.87,1438.06 L253.33,1438.29 L254.80,1438.52 L256.27,1438.74 L257.73,1438.95 L259.20,1439.16 L260.67,1439.36 L262.13,1439.56 L263.60,1439.75 L265.07,1439.94 L266.53,1440.12 L268.00,1440.30 L269.47,1440.47 L270.93,1440.64 L272.40,1440.80 L273.87,1440.96 L275.33,1441.12 L277.59,1441.35 L279.85,1441.58 L282.11,1441.79 L284.37,1442.00 L286.62,1442.21 L288.88,1442.40 L291.14,1442.59 L293.40,1442.77 L295.66,1442.95 L297.91,1443.12 L300.17,1443.29 L302.43,1443.45 L304.69,1443.61 L306.95,1443.76 L309.21,1443.91 L311.46,1444.05 L313.72,1444.19 L315.98,1444.32 L318.24,1444.45 L320.50,1444.58 L322.75,1444.71 L325.01,1444.83 L327.27,1444.95 L329.53,1445.06 L331.79,1445.17 L334.05,1445.28 L336.30,1445.39 L338.56,1445.49 L340.82,1445.60 L343.08,1445.70 L345.34,1445.79 L347.59,1445.89 L349.85,1445.98 L352.11,1446.07 L354.37,1446.16 L356.63,1446.24 L358.89,1446.33 L361.14,1446.41 L363.40,1446.49 L365.66,1446.57 L367.92,1446.65 L370.18,1446.72 L372.43,1446.80 L374.69,1446.87 L376.95,1446.94 L379.21,1447.01 L381.47,1447.08 L383.73,1447.15 L385.98,1447.21 L388.24,1447.28 L390.50,1447.34 L392.76,1447.40 L395.02,1447.46 L397.27,1447.52 L399.53,1447.58 L401.79,1447.64 L404.05,1447.70 L406.31,1447.75 L408.57,1447.81 L410.82,1447.86 L413.08,1447.91 L415.34,1447.97 L417.60,1448.02 L419.86,1448.07 L422.11,1448.12 L424.37,1448.16 L426.63,1448.21 L428.89,1448.26 L431.15,1448.30 L433.40,1448.35 L435.66,1448.39 L437.92,1448.44 L440.18,1448.48 L442.44,1448.52 L444.70,1448.57 L446.95,1448.61 L449.21,1448.65 L451.47,1448.69 L453.73,1448.73 L455.99,1448.77 L458.24,1448.80 L460.50,1448.84 L462.76,1448.88 L465.02,1448.91 L467.28,1448.95 L469.54,1448.99 L471.79,1449.02 L474.05,1449.06 L476.31,1449.09 L478.57,1449.12 L480.83,1449.16 L483.08,1449.19 L485.34,1449.22 L487.60,1449.25 L489.86,1449.28 L492.12,1449.32 L494.38,1449.35 L496.63,1449.38 L498.89,1449.41 L501.15,1449.43 L503.41,1449.46 L505.67,1449.49 L507.92,1449.52 L510.18,1449.55 L512.44,1449.58 L514.70,1449.60 L516.96,1449.63 L519.22,1449.66 L521.47,1449.68 L523.73,1449.71 L525.99,1449.73 L528.25,1449.76 L530.51,1449.78 L532.76,1449.81 L535.02,1449.83 L537.28,1449.86 L539.54,1449.88 L541.80,1449.90 L544.05,1449.93 L546.31,1449.95 L548.57,1449.97 L550.83,1450.00 L553.09,1450.02 L555.35,1450.04 L557.60,1450.06 L559.86,1450.08 L562.12,1450.10 L564.38,1450.12 L566.64,1450.15 L568.89,1450.17 L571.15,1450.19 L573.41,1450.21 L575.67,1450.23 L577.93,1450.25 L580.19,1450.26 L582.44,1450.28 L584.70,1450.30 L586.96,1450.32 L589.22,1450.34 L591.48,1450.36 L593.73,1450.38 L595.99,1450.40 L598.25,1450.41 L600.51,1450.43 L602.77,1450.45 L605.03,1450.47 L607.28,1450.48 L609.54,1450.50 L611.80,1450.52 L614.06,1450.53 L616.32,1450.55 L618.57,1450.57 L620.83,1450.58 L623.09,1450.60 L625.35,1450.61 L627.61,1450.63 L629.87,1450.65 L632.12,1450.66 L634.38,1450.68 L636.64,1450.69 L638.90,1450.71 L641.16,1450.72 L643.41,1450.74 L645.67,1450.75 L647.93,1450.77 L650.19,1450.78 L652.45,1450.79 L654.71,1450.81 L656.96,1450.82 L659.22,1450.84 L661.48,1450.85 L663.74,1450.86 L666.00,1450.88 L668.25,1450.89 L670.51,1450.90 L672.77,1450.92 L675.03,1450.93 L677.29,1450.94 L679.54,1450.95 L681.80,1450.97 L684.06,1450.98 L686.32,1450.99 L688.58,1451.00 L690.84,1451.02 L693.09,1451.03 L695.35,1451.04 L697.61,1451.05 L699.87,1451.06 L702.13,1451.08 L704.38,1451.09 L706.64,1451.10 L708.90,1451.11 L711.16,1451.12 L713.42,1451.13 L715.68,1451.15 L717.93,1451.16 L720.19,1451.17 L722.45,1451.18 L724.71,1451.19 L725.84,1451.19" fill="none" stroke="#0000FF" stroke-width="2.8" stroke-dasharray="10.4 16.75" stroke-dashoffset="23.65" stroke-linecap="round"/><path d="M725.84,1451.19 L727.47,1451.20 L729.10,1451.21 L730.73,1451.22 L732.36,1451.22 L733.99,1451.23 L735.62,1451.24 L737.25,1451.25 L738.88,1451.25 L740.51,1451.26 L742.14,1451.27 L743.77,1451.28 L745.40,1451.28 L747.03,1451.29 L748.66,1451.30 L750.29,1451.31 L751.92,1451.31 L753.55,1451.32 L755.18,1451.33 L756.81,1451.33 L758.44,1451.34 L760.07,1451.35 L761.70,1451.35 L763.34,1451.36 L764.97,1451.37 L766.60,1451.38 L768.23,1451.38 L769.86,1451.39 L771.49,1451.40 L773.12,1451.40 L774.75,1451.41 L776.38,1451.42 L778.01,1451.42 L779.64,1451.43 L781.27,1451.43 L782.90,1451.44 L784.53,1451.45 L786.16,1451.45 L787.79,1451.46 L789.42,1451.47 L791.05,1451.47 L792.68,1451.48 L794.31,1451.49 L795.94,1451.49 L797.57,1451.50 L799.20,1451.50 L800.83,1451.51 L802.46,1451.52 L804.09,1451.52 L805.72,1451.53 L807.35,1451.53 L808.98,1451.54 L810.62,1451.55 L812.25,1451.55 L813.88,1451.56 L815.51,1451.56 L817.14,1451.57 L818.77,1451.57 L820.40,1451.58 L822.03,1451.59 L823.66,1451.59 L825.29,1451.60 L826.92,1451.60 L828.55,1451.61 L830.18,1451.61 L831.81,1451.62 L833.44,1451.62 L835.07,1451.63 L836.70,1451.64 L838.33,1451.64 L839.96,1451.65 L841.59,1451.65 L843.22,1451.66 L844.85,1451.66 L846.48,1451.67 L848.11,1451.67 L849.74,1451.68 L851.37,1451.68 L853.00,1451.69 L854.63,1451.69 L856.26,1451.70 L857.89,1451.70 L859.53,1451.71 L861.16,1451.71 L862.79,1451.72 L864.42,1451.72 L866.05,1451.73 L867.68,1451.73 L869.31,1451.74 L870.94,1451.74 L872.57,1451.75 L874.20,1451.75 L875.83,1451.76 L877.46,1451.76 L879.09,1451.77 L880.72,1451.77 L882.35,1451.78 L883.98,1451.78 L885.61,1451.79 L887.24,1451.79 L888.87,1451.80 L890.50,1451.80 L892.13,1451.81 L893.76,1451.81 L895.39,1451.82 L897.02,1451.82 L898.65,1451.83 L900.28,1451.83 L901.91,1451.83 L903.54,1451.84 L905.17,1451.84 L906.81,1451.85 L908.44,1451.85 L910.07,1451.86 L911.70,1451.86 L913.33,1451.87 L914.96,1451.87 L916.59,1451.87 L918.22,1451.88 L919.85,1451.88 L921.48,1451.89 L923.11,1451.89 L924.74,1451.90 L926.37,1451.90 L928.00,1451.90 L929.63,1451.91 L931.26,1451.91 L932.89,1451.92 L934.52,1451.92 L936.15,1451.93 L937.78,1451.93 L939.41,1451.93 L941.04,1451.94 L942.67,1451.94 L944.30,1451.95 L945.93,1451.95 L947.56,1451.95 L949.19,1451.96 L950.82,1451.96 L952.45,1451.97 L954.09,1451.97 L955.72,1451.97 L957.35,1451.98 L958.98,1451.98 L960.61,1451.99 L962.24,1451.99 L963.87,1451.99 L965.50,1452.00 L967.13,1452.00 L968.76,1452.01 L969.57,1452.01" fill="none" stroke="#0000FF" stroke-width="2.8" stroke-dasharray="10.4 16.75" stroke-linecap="round"/>
</g>
<rect x="130.7" y="755.8" width="867.8" height="698.8" fill="none" stroke="#000" stroke-width="2.6"/>
<path d="M159.63,1454.60L159.63,1440.80M275.33,1454.60L275.33,1440.80M391.04,1454.60L391.04,1440.80M506.75,1454.60L506.75,1440.80M622.45,1454.60L622.45,1440.80M738.16,1454.60L738.16,1440.80M853.87,1454.60L853.87,1440.80M969.57,1454.60L969.57,1440.80M217.48,1454.60L217.48,1447.90M333.19,1454.60L333.19,1447.90M448.89,1454.60L448.89,1447.90M564.60,1454.60L564.60,1447.90M680.31,1454.60L680.31,1447.90M796.01,1454.60L796.01,1447.90M911.72,1454.60L911.72,1447.90M159.63,755.80L159.63,769.60M275.33,755.80L275.33,769.60M391.04,755.80L391.04,769.60M506.75,755.80L506.75,769.60M622.45,755.80L622.45,769.60M738.16,755.80L738.16,769.60M853.87,755.80L853.87,769.60M969.57,755.80L969.57,769.60M217.48,755.80L217.48,762.50M333.19,755.80L333.19,762.50M448.89,755.80L448.89,762.50M564.60,755.80L564.60,762.50M680.31,755.80L680.31,762.50M796.01,755.80L796.01,762.50M911.72,755.80L911.72,762.50M130.70,1338.13L144.50,1338.13M130.70,1221.67L144.50,1221.67M130.70,1105.20L144.50,1105.20M130.70,988.73L144.50,988.73M130.70,872.27L144.50,872.27M130.70,1431.31L137.40,1431.31M130.70,1408.01L137.40,1408.01M130.70,1384.72L137.40,1384.72M130.70,1361.43L137.40,1361.43M130.70,1314.84L137.40,1314.84M130.70,1291.55L137.40,1291.55M130.70,1268.25L137.40,1268.25M130.70,1244.96L137.40,1244.96M130.70,1198.37L137.40,1198.37M130.70,1175.08L137.40,1175.08M130.70,1151.79L137.40,1151.79M130.70,1128.49L137.40,1128.49M130.70,1081.91L137.40,1081.91M130.70,1058.61L137.40,1058.61M130.70,1035.32L137.40,1035.32M130.70,1012.03L137.40,1012.03M130.70,965.44L137.40,965.44M130.70,942.15L137.40,942.15M130.70,918.85L137.40,918.85M130.70,895.56L137.40,895.56M130.70,848.97L137.40,848.97M130.70,825.68L137.40,825.68M130.70,802.39L137.40,802.39M130.70,779.09L137.40,779.09M998.50,1338.13L984.70,1338.13M998.50,1221.67L984.70,1221.67M998.50,1105.20L984.70,1105.20M998.50,988.73L984.70,988.73M998.50,872.27L984.70,872.27M998.50,1431.31L991.80,1431.31M998.50,1408.01L991.80,1408.01M998.50,1384.72L991.80,1384.72M998.50,1361.43L991.80,1361.43M998.50,1314.84L991.80,1314.84M998.50,1291.55L991.80,1291.55M998.50,1268.25L991.80,1268.25M998.50,1244.96L991.80,1244.96M998.50,1198.37L991.80,1198.37M998.50,1175.08L991.80,1175.08M998.50,1151.79L991.80,1151.79M998.50,1128.49L991.80,1128.49M998.50,1081.91L991.80,1081.91M998.50,1058.61L991.80,1058.61M998.50,1035.32L991.80,1035.32M998.50,1012.03L991.80,1012.03M998.50,965.44L991.80,965.44M998.50,942.15L991.80,942.15M998.50,918.85L991.80,918.85M998.50,895.56L991.80,895.56M998.50,848.97L991.80,848.97M998.50,825.68L991.80,825.68M998.50,802.39L991.80,802.39M998.50,779.09L991.80,779.09" stroke="#000" stroke-width="2.6" fill="none"/>
<text x="115.2" y="1466.6" font-family="Liberation Serif" font-size="40" text-anchor="end">0.0</text>
<text x="115.2" y="1350.1" font-family="Liberation Serif" font-size="40" text-anchor="end">0.5</text>
<text x="115.2" y="1233.7" font-family="Liberation Serif" font-size="40" text-anchor="end">1.0</text>
<text x="115.2" y="1117.2" font-family="Liberation Serif" font-size="40" text-anchor="end">1.5</text>
<text x="115.2" y="1000.7" font-family="Liberation Serif" font-size="40" text-anchor="end">2.0</text>
<text x="115.2" y="884.3" font-family="Liberation Serif" font-size="40" text-anchor="end">2.5</text>
<text x="115.2" y="767.8" font-family="Liberation Serif" font-size="40" text-anchor="end">3.0</text>
<rect x="639.1" y="800.1999999999999" width="331.4" height="360.4" fill="#fff" stroke="none"/>
<g clip-path="url(#clipi741)">
<rect x="652.09" y="869.74" width="13.00" height="13.00" fill="#000000"/>
<rect x="691.08" y="1008.86" width="13.00" height="13.00" fill="#000000"/>
<rect x="925.01" y="1115.18" width="13.00" height="13.00" fill="#000000"/>
<circle cx="658.59" cy="971.75" r="7.50" fill="#FF0000"/>
<circle cx="697.58" cy="1062.45" r="7.50" fill="#FF0000"/>
<circle cx="931.51" cy="1136.09" r="7.50" fill="#FF0000"/>
<path d="M658.59,999.55 L667.69,1015.31 L649.49,1015.31Z" fill="#00FF00"/>
<path d="M697.58,1070.67 L706.68,1086.43 L688.48,1086.43Z" fill="#00FF00"/>
<path d="M931.51,1132.90 L940.61,1148.66 L922.41,1148.66Z" fill="#00FF00"/>
<path d="M649.49,1022.37 L667.69,1022.37 L658.59,1038.14Z" fill="#0000FF"/>
<path d="M688.48,1085.93 L706.68,1085.93 L697.58,1101.69Z" fill="#0000FF"/>
<path d="M922.41,1140.71 L940.61,1140.71 L931.51,1156.47Z" fill="#0000FF"/>
<path d="M658.59,873.13 L658.95,875.81 L659.31,878.44 L659.66,881.02 L660.02,883.56 L660.37,886.04 L660.73,888.48 L661.08,890.88 L661.44,893.23 L661.79,895.54 L662.15,897.81 L662.51,900.03 L662.86,902.23 L663.22,904.38 L663.57,906.49 L663.93,908.57 L664.28,910.62 L664.64,912.63 L665.00,914.60 L665.35,916.55 L665.71,918.46 L666.06,920.34 L666.42,922.20 L666.77,924.02 L667.13,925.81 L667.48,927.58 L667.84,929.32 L668.20,931.03 L668.55,932.71 L668.91,934.37 L669.26,936.01 L669.62,937.62 L669.97,939.20 L670.33,940.77 L670.69,942.31 L671.04,943.83 L671.40,945.32 L671.75,946.80 L672.11,948.25 L672.46,949.68 L672.82,951.10 L673.17,952.49 L673.53,953.86 L674.24,956.56 L674.95,959.18 L675.66,961.73 L676.38,964.21 L677.09,966.63 L677.80,968.99 L678.51,971.28 L679.22,973.52 L679.93,975.71 L680.64,977.84 L681.35,979.93 L682.07,981.96 L682.78,983.94 L683.49,985.88 L684.20,987.78 L684.91,989.63 L685.62,991.44 L686.33,993.21 L687.04,994.94 L687.76,996.63 L688.47,998.29 L689.18,999.91 L689.89,1001.50 L690.60,1003.06 L691.31,1004.58 L692.02,1006.07 L692.73,1007.54 L693.45,1008.97 L694.16,1010.38 L694.87,1011.75 L695.58,1013.10 L696.29,1014.43 L697.00,1015.73 L697.71,1017.01 L698.42,1018.26 L699.13,1019.49 L700.20,1021.29 L701.27,1023.04 L702.34,1024.75 L703.40,1026.41 L704.47,1028.03 L705.54,1029.60 L706.60,1031.14 L707.67,1032.64 L708.74,1034.10 L709.80,1035.53 L710.87,1036.92 L711.94,1038.28 L713.00,1039.61 L714.07,1040.90 L715.14,1042.17 L716.20,1043.41 L717.27,1044.62 L718.34,1045.80 L719.41,1046.96 L720.47,1048.09 L721.54,1049.20 L722.61,1050.29 L723.67,1051.35 L724.74,1052.39 L725.81,1053.41 L726.87,1054.41 L727.94,1055.38 L729.01,1056.34 L730.07,1057.28 L731.50,1058.50 L732.92,1059.70 L734.34,1060.86 L735.76,1061.99 L737.19,1063.10 L738.61,1064.18 L740.03,1065.23 L741.45,1066.26 L742.88,1067.26 L744.30,1068.24 L745.72,1069.20 L747.14,1070.13 L748.57,1071.05 L749.99,1071.94 L751.41,1072.81 L752.83,1073.67 L754.26,1074.51 L755.68,1075.32 L757.10,1076.13 L758.52,1076.91 L759.95,1077.68 L761.37,1078.43 L762.79,1079.17 L764.21,1079.90 L765.64,1080.60 L767.06,1081.30 L768.48,1081.98 L769.90,1082.65 L771.33,1083.30 L772.75,1083.95 L774.17,1084.58 L775.59,1085.20 L777.02,1085.81 L778.44,1086.40 L779.86,1086.99 L781.28,1087.57 L782.71,1088.13 L784.13,1088.69 L785.55,1089.23 L786.97,1089.77 L788.40,1090.30 L789.82,1090.82 L791.24,1091.33 L792.66,1091.83 L794.09,1092.32 L795.51,1092.81 L796.93,1093.28 L798.35,1093.75 L799.78,1094.21 L801.20,1094.67 L802.62,1095.12 L804.04,1095.56 L805.47,1095.99 L806.89,1096.42 L808.31,1096.84 L809.73,1097.25 L811.16,1097.66 L812.58,1098.06 L814.00,1098.46 L815.42,1098.85 L816.85,1099.23 L818.27,1099.61 L819.69,1099.98 L821.11,1100.35 L822.54,1100.71 L823.96,1101.07 L825.38,1101.42 L826.80,1101.77 L828.23,1102.11 L829.65,1102.45 L831.07,1102.78 L832.49,1103.11 L833.92,1103.44 L835.34,1103.76 L836.76,1104.07 L838.18,1104.39 L839.61,1104.69 L841.03,1105.00 L842.45,1105.30 L843.87,1105.59 L845.30,1105.89 L846.72,1106.17 L848.14,1106.46 L849.56,1106.74 L850.99,1107.02 L852.41,1107.29 L853.83,1107.56 L855.25,1107.83 L856.68,1108.10 L858.10,1108.36 L859.52,1108.62 L860.94,1108.87 L862.37,1109.12 L863.79,1109.37 L865.21,1109.62 L866.63,1109.86 L868.06,1110.10 L869.48,1110.34 L870.90,1110.57 L872.32,1110.81 L873.74,1111.04 L875.17,1111.26 L876.59,1111.49 L878.01,1111.71 L879.43,1111.93 L880.86,1112.15 L882.28,1112.36 L883.70,1112.58 L885.12,1112.79 L886.55,1112.99 L887.97,1113.20 L889.39,1113.40 L890.81,1113.60 L892.24,1113.80 L893.66,1114.00 L895.08,1114.20 L896.50,1114.39 L897.93,1114.58 L899.35,1114.77 L900.77,1114.96 L902.19,1115.14 L903.62,1115.33 L905.04,1115.51 L906.46,1115.69 L907.88,1115.86 L909.31,1116.04 L910.73,1116.22 L912.15,1116.39 L913.57,1116.56 L915.00,1116.73 L916.42,1116.90 L917.84,1117.06 L919.26,1117.23 L920.69,1117.39 L922.11,1117.55 L923.53,1117.71 L924.95,1117.87 L926.38,1118.03 L927.80,1118.18 L929.22,1118.34 L930.64,1118.49 L932.07,1118.64 L933.49,1118.79 L934.91,1118.94 L936.33,1119.09 L937.76,1119.23 L939.18,1119.38 L940.60,1119.52 L942.02,1119.66 L943.45,1119.80 L944.87,1119.94 L946.29,1120.08 L947.71,1120.22 L949.14,1120.35 L950.56,1120.49 L951.98,1120.62 L953.40,1120.75 L954.83,1120.89 L956.25,1121.02 L957.67,1121.14 L959.09,1121.27 L960.52,1121.40 L961.94,1121.53 L963.36,1121.65 L964.78,1121.77 L966.21,1121.90 L967.63,1122.02 L969.05,1122.14 L970.47,1122.26 L971.90,1122.38 L973.32,1122.50 L974.74,1122.61 L976.16,1122.73 L977.59,1122.84 L978.30,1122.90" fill="none" stroke="#000000" stroke-width="2" stroke-dasharray="6.7 11.65" stroke-dashoffset="15.82" stroke-linecap="round"/>
<path d="M658.59,971.25 L658.95,972.93 L659.31,974.57 L659.66,976.19 L660.02,977.77 L660.37,979.33 L660.73,980.86 L661.08,982.37 L661.44,983.85 L661.79,985.30 L662.15,986.73 L662.51,988.14 L662.86,989.52 L663.57,992.22 L664.28,994.84 L665.00,997.37 L665.71,999.82 L666.42,1002.20 L667.13,1004.51 L667.84,1006.75 L668.55,1008.93 L669.26,1011.04 L669.97,1013.09 L670.69,1015.09 L671.40,1017.03 L672.11,1018.92 L672.82,1020.76 L673.53,1022.55 L674.24,1024.29 L674.95,1025.99 L675.66,1027.65 L676.38,1029.26 L677.09,1030.83 L677.80,1032.37 L678.51,1033.87 L679.22,1035.33 L679.93,1036.76 L680.64,1038.15 L681.35,1039.52 L682.07,1040.85 L682.78,1042.15 L683.49,1043.42 L684.20,1044.67 L685.27,1046.48 L686.33,1048.24 L687.40,1049.95 L688.47,1051.60 L689.53,1053.20 L690.60,1054.75 L691.67,1056.25 L692.73,1057.72 L693.80,1059.14 L694.87,1060.52 L695.93,1061.86 L697.00,1063.16 L698.07,1064.43 L699.13,1065.67 L700.20,1066.87 L701.27,1068.04 L702.34,1069.18 L703.40,1070.29 L704.47,1071.37 L705.54,1072.43 L706.60,1073.46 L707.67,1074.47 L708.74,1075.45 L709.80,1076.41 L710.87,1077.34 L712.29,1078.56 L713.72,1079.74 L715.14,1080.88 L716.56,1081.99 L717.98,1083.06 L719.41,1084.11 L720.83,1085.13 L722.25,1086.12 L723.67,1087.08 L725.10,1088.01 L726.52,1088.93 L727.94,1089.81 L729.36,1090.68 L730.79,1091.52 L732.21,1092.34 L733.63,1093.14 L735.05,1093.92 L736.48,1094.68 L737.90,1095.43 L739.32,1096.15 L740.74,1096.86 L742.17,1097.55 L743.59,1098.23 L745.01,1098.89 L746.43,1099.53 L747.86,1100.17 L749.28,1100.78 L750.70,1101.39 L752.12,1101.98 L753.54,1102.56 L754.97,1103.13 L756.39,1103.68 L757.81,1104.22 L759.23,1104.76 L760.66,1105.28 L762.08,1105.79 L763.50,1106.29 L764.92,1106.78 L766.35,1107.26 L767.77,1107.74 L769.19,1108.20 L770.61,1108.65 L772.04,1109.10 L773.46,1109.54 L774.88,1109.97 L776.30,1110.39 L777.73,1110.81 L779.15,1111.21 L780.57,1111.61 L781.99,1112.01 L783.42,1112.39 L784.84,1112.77 L786.26,1113.15 L787.68,1113.51 L789.11,1113.87 L790.53,1114.23 L791.95,1114.58 L793.37,1114.92 L794.80,1115.26 L796.22,1115.59 L797.64,1115.92 L799.06,1116.24 L800.49,1116.55 L801.91,1116.87 L803.33,1117.17 L804.75,1117.47 L806.18,1117.77 L807.60,1118.06 L809.02,1118.35 L810.44,1118.64 L811.87,1118.92 L813.29,1119.19 L814.71,1119.47 L816.13,1119.73 L817.56,1120.00 L818.98,1120.26 L820.40,1120.51 L821.82,1120.77 L823.25,1121.02 L824.67,1121.26 L826.09,1121.51 L827.51,1121.75 L828.94,1121.98 L830.36,1122.21 L831.78,1122.44 L833.20,1122.67 L834.63,1122.89 L836.05,1123.12 L837.47,1123.33 L838.89,1123.55 L840.32,1123.76 L841.74,1123.97 L843.16,1124.18 L844.58,1124.38 L846.01,1124.58 L847.43,1124.78 L848.85,1124.98 L850.27,1125.17 L851.70,1125.37 L853.12,1125.56 L854.54,1125.74 L855.96,1125.93 L857.39,1126.11 L858.81,1126.29 L860.23,1126.47 L861.65,1126.65 L863.08,1126.82 L864.50,1126.99 L865.92,1127.16 L867.34,1127.33 L868.77,1127.50 L870.19,1127.66 L871.61,1127.83 L873.03,1127.99 L874.46,1128.15 L875.88,1128.30 L877.30,1128.46 L878.72,1128.61 L880.15,1128.76 L881.57,1128.91 L882.99,1129.06 L884.41,1129.21 L885.84,1129.36 L887.26,1129.50 L888.68,1129.64 L890.10,1129.78 L891.53,1129.92 L892.95,1130.06 L894.37,1130.20 L895.79,1130.33 L897.22,1130.47 L898.64,1130.60 L900.06,1130.73 L901.48,1130.86 L902.91,1130.99 L904.33,1131.12 L905.75,1131.25 L907.17,1131.37 L908.60,1131.49 L910.02,1131.62 L911.44,1131.74 L912.86,1131.86 L914.29,1131.98 L915.71,1132.09 L917.13,1132.21 L918.55,1132.33 L919.98,1132.44 L921.40,1132.55 L922.82,1132.67 L924.24,1132.78 L925.67,1132.89 L927.09,1133.00 L928.51,1133.11 L929.93,1133.21 L931.36,1133.32 L932.78,1133.42 L934.20,1133.53 L935.62,1133.63 L937.05,1133.73 L938.47,1133.84 L939.89,1133.94 L941.31,1134.04 L942.74,1134.13 L944.16,1134.23 L945.58,1134.33 L947.00,1134.43 L948.43,1134.52 L949.85,1134.62 L951.27,1134.71 L952.69,1134.80 L954.12,1134.90 L955.54,1134.99 L956.96,1135.08 L958.38,1135.17 L959.81,1135.26 L961.23,1135.34 L962.65,1135.43 L964.07,1135.52 L965.50,1135.61 L966.92,1135.69 L968.34,1135.78 L969.76,1135.86 L971.19,1135.94 L972.61,1136.03 L974.03,1136.11 L975.45,1136.19 L976.88,1136.27 L978.30,1136.35" fill="none" stroke="#FF0000" stroke-width="2" stroke-dasharray="6.7 11.65" stroke-dashoffset="18.27" stroke-linecap="round"/>
<path d="M658.59,1009.35 L659.31,1011.78 L660.02,1014.13 L660.73,1016.40 L661.44,1018.61 L662.15,1020.75 L662.86,1022.82 L663.57,1024.84 L664.28,1026.79 L665.00,1028.69 L665.71,1030.54 L666.42,1032.33 L667.13,1034.08 L667.84,1035.77 L668.55,1037.43 L669.26,1039.04 L669.97,1040.60 L670.69,1042.13 L671.40,1043.62 L672.11,1045.07 L672.82,1046.48 L673.53,1047.86 L674.24,1049.21 L674.95,1050.52 L675.66,1051.81 L676.38,1053.06 L677.09,1054.28 L678.15,1056.07 L679.22,1057.79 L680.29,1059.46 L681.35,1061.08 L682.42,1062.64 L683.49,1064.15 L684.55,1065.62 L685.62,1067.05 L686.69,1068.43 L687.76,1069.77 L688.82,1071.07 L689.89,1072.33 L690.96,1073.56 L692.02,1074.75 L693.09,1075.91 L694.16,1077.04 L695.22,1078.14 L696.29,1079.21 L697.36,1080.25 L698.42,1081.27 L699.49,1082.26 L700.56,1083.22 L701.62,1084.17 L703.05,1085.39 L704.47,1086.57 L705.89,1087.71 L707.31,1088.82 L708.74,1089.89 L710.16,1090.93 L711.58,1091.94 L713.00,1092.93 L714.43,1093.88 L715.85,1094.81 L717.27,1095.71 L718.69,1096.58 L720.12,1097.44 L721.54,1098.26 L722.96,1099.07 L724.38,1099.86 L725.81,1100.62 L727.23,1101.37 L728.65,1102.10 L730.07,1102.81 L731.50,1103.50 L732.92,1104.18 L734.34,1104.84 L735.76,1105.48 L737.19,1106.11 L738.61,1106.72 L740.03,1107.32 L741.45,1107.91 L742.88,1108.48 L744.30,1109.04 L745.72,1109.59 L747.14,1110.13 L748.57,1110.66 L749.99,1111.17 L751.41,1111.67 L752.83,1112.17 L754.26,1112.65 L755.68,1113.12 L757.10,1113.59 L758.52,1114.04 L759.95,1114.49 L761.37,1114.92 L762.79,1115.35 L764.21,1115.77 L765.64,1116.18 L767.06,1116.59 L768.48,1116.99 L769.90,1117.38 L771.33,1117.76 L772.75,1118.13 L774.17,1118.50 L775.59,1118.87 L777.02,1119.22 L778.44,1119.57 L779.86,1119.92 L781.28,1120.25 L782.71,1120.59 L784.13,1120.91 L785.55,1121.23 L786.97,1121.55 L788.40,1121.86 L789.82,1122.17 L791.24,1122.47 L792.66,1122.76 L794.09,1123.05 L795.51,1123.34 L796.93,1123.62 L798.35,1123.90 L799.78,1124.17 L801.20,1124.44 L802.62,1124.71 L804.04,1124.97 L805.47,1125.22 L806.89,1125.48 L808.31,1125.73 L809.73,1125.97 L811.16,1126.22 L812.58,1126.45 L814.00,1126.69 L815.42,1126.92 L816.85,1127.15 L818.27,1127.38 L819.69,1127.60 L821.11,1127.82 L822.54,1128.03 L823.96,1128.25 L825.38,1128.46 L826.80,1128.67 L828.23,1128.87 L829.65,1129.07 L831.07,1129.27 L832.49,1129.47 L833.92,1129.66 L835.34,1129.86 L836.76,1130.05 L838.18,1130.23 L839.61,1130.42 L841.03,1130.60 L842.45,1130.78 L843.87,1130.96 L845.30,1131.13 L846.72,1131.31 L848.14,1131.48 L849.56,1131.65 L850.99,1131.81 L852.41,1131.98 L853.83,1132.14 L855.25,1132.30 L856.68,1132.46 L858.10,1132.62 L859.52,1132.78 L860.94,1132.93 L862.37,1133.08 L863.79,1133.23 L865.21,1133.38 L866.63,1133.53 L868.06,1133.67 L869.48,1133.82 L870.90,1133.96 L872.32,1134.10 L873.74,1134.24 L875.17,1134.38 L876.59,1134.51 L878.01,1134.65 L879.43,1134.78 L880.86,1134.91 L882.28,1135.04 L883.70,1135.17 L885.12,1135.30 L886.55,1135.42 L887.97,1135.55 L889.39,1135.67 L890.81,1135.79 L892.24,1135.91 L893.66,1136.03 L895.08,1136.15 L896.50,1136.27 L897.93,1136.39 L899.35,1136.50 L900.77,1136.61 L902.19,1136.73 L903.62,1136.84 L905.04,1136.95 L906.46,1137.06 L907.88,1137.17 L909.31,1137.27 L910.73,1137.38 L912.15,1137.49 L913.57,1137.59 L915.00,1137.69 L916.42,1137.79 L917.84,1137.90 L919.26,1138.00 L920.69,1138.10 L922.11,1138.19 L923.53,1138.29 L924.95,1138.39 L926.38,1138.48 L927.80,1138.58 L929.22,1138.67 L930.64,1138.77 L932.07,1138.86 L933.49,1138.95 L934.91,1139.04 L936.33,1139.13 L937.76,1139.22 L939.18,1139.31 L940.60,1139.40 L942.02,1139.48 L943.45,1139.57 L944.87,1139.65 L946.29,1139.74 L947.71,1139.82 L949.14,1139.91 L950.56,1139.99 L951.98,1140.07 L953.40,1140.15 L954.83,1140.23 L956.25,1140.31 L957.67,1140.39 L959.09,1140.47 L960.52,1140.55 L961.94,1140.62 L963.36,1140.70 L964.78,1140.78 L966.21,1140.85 L967.63,1140.93 L969.05,1141.00 L970.47,1141.07 L971.90,1141.15 L973.32,1141.22 L974.74,1141.29 L976.16,1141.36 L977.59,1141.43 L978.30,1141.47" fill="none" stroke="#00FF00" stroke-width="2" stroke-dasharray="6.7 11.65" stroke-dashoffset="0.73" stroke-linecap="round"/>
<path d="M658.59,1025.32 L659.31,1027.68 L660.02,1029.95 L660.73,1032.14 L661.44,1034.26 L662.15,1036.31 L662.86,1038.30 L663.57,1040.22 L664.28,1042.09 L665.00,1043.90 L665.71,1045.65 L666.42,1047.35 L667.13,1049.00 L667.84,1050.60 L668.55,1052.16 L669.26,1053.67 L669.97,1055.15 L670.69,1056.58 L671.40,1057.97 L672.11,1059.33 L672.82,1060.65 L673.53,1061.94 L674.24,1063.19 L674.95,1064.41 L676.02,1066.19 L677.09,1067.90 L678.15,1069.56 L679.22,1071.15 L680.29,1072.69 L681.35,1074.17 L682.42,1075.61 L683.49,1077.00 L684.55,1078.34 L685.62,1079.64 L686.69,1080.90 L687.76,1082.13 L688.82,1083.31 L689.89,1084.46 L690.96,1085.58 L692.02,1086.66 L693.09,1087.71 L694.16,1088.74 L695.22,1089.73 L696.29,1090.70 L697.36,1091.64 L698.78,1092.85 L700.20,1094.03 L701.62,1095.16 L703.05,1096.25 L704.47,1097.31 L705.89,1098.34 L707.31,1099.33 L708.74,1100.29 L710.16,1101.22 L711.58,1102.12 L713.00,1103.00 L714.43,1103.85 L715.85,1104.67 L717.27,1105.47 L718.69,1106.25 L720.12,1107.00 L721.54,1107.74 L722.96,1108.45 L724.38,1109.15 L725.81,1109.83 L727.23,1110.49 L728.65,1111.13 L730.07,1111.75 L731.50,1112.36 L732.92,1112.96 L734.34,1113.54 L735.76,1114.11 L737.19,1114.66 L738.61,1115.20 L740.03,1115.73 L741.45,1116.24 L742.88,1116.75 L744.30,1117.24 L745.72,1117.72 L747.14,1118.19 L748.57,1118.65 L749.99,1119.10 L751.41,1119.54 L752.83,1119.97 L754.26,1120.39 L755.68,1120.80 L757.10,1121.21 L758.52,1121.61 L759.95,1121.99 L761.37,1122.38 L762.79,1122.75 L764.21,1123.11 L765.64,1123.47 L767.06,1123.83 L768.48,1124.17 L769.90,1124.51 L771.33,1124.84 L772.75,1125.17 L774.17,1125.49 L775.59,1125.80 L777.02,1126.11 L778.44,1126.42 L779.86,1126.72 L781.28,1127.01 L782.71,1127.30 L784.13,1127.58 L785.55,1127.86 L786.97,1128.13 L788.40,1128.40 L789.82,1128.66 L791.24,1128.92 L792.66,1129.18 L794.09,1129.43 L795.51,1129.68 L796.93,1129.92 L798.35,1130.16 L799.78,1130.40 L801.20,1130.63 L802.62,1130.86 L804.04,1131.09 L805.47,1131.31 L806.89,1131.53 L808.31,1131.74 L809.73,1131.95 L811.16,1132.16 L812.58,1132.37 L814.00,1132.57 L815.42,1132.77 L816.85,1132.97 L818.27,1133.16 L819.69,1133.35 L821.11,1133.54 L822.54,1133.73 L823.96,1133.91 L825.38,1134.09 L826.80,1134.27 L828.23,1134.45 L829.65,1134.62 L831.07,1134.79 L832.49,1134.96 L833.92,1135.13 L835.34,1135.29 L836.76,1135.46 L838.18,1135.62 L839.61,1135.78 L841.03,1135.93 L842.45,1136.09 L843.87,1136.24 L845.30,1136.39 L846.72,1136.54 L848.14,1136.68 L849.56,1136.83 L850.99,1136.97 L852.41,1137.11 L853.83,1137.25 L855.25,1137.39 L856.68,1137.53 L858.10,1137.66 L859.52,1137.80 L860.94,1137.93 L862.37,1138.06 L863.79,1138.19 L865.21,1138.31 L866.63,1138.44 L868.06,1138.56 L869.48,1138.69 L870.90,1138.81 L872.32,1138.93 L873.74,1139.05 L875.17,1139.17 L876.59,1139.28 L878.01,1139.40 L879.43,1139.51 L880.86,1139.62 L882.28,1139.73 L883.70,1139.84 L885.12,1139.95 L886.55,1140.06 L887.97,1140.17 L889.39,1140.27 L890.81,1140.38 L892.24,1140.48 L893.66,1140.58 L895.08,1140.68 L896.50,1140.78 L897.93,1140.88 L899.35,1140.98 L900.77,1141.08 L902.19,1141.17 L903.62,1141.27 L905.04,1141.36 L906.46,1141.46 L907.88,1141.55 L909.31,1141.64 L910.73,1141.73 L912.15,1141.82 L913.57,1141.91 L915.00,1142.00 L916.42,1142.08 L917.84,1142.17 L919.26,1142.26 L920.69,1142.34 L922.11,1142.43 L923.53,1142.51 L924.95,1142.59 L926.38,1142.67 L927.80,1142.75 L929.22,1142.83 L930.64,1142.91 L932.07,1142.99 L933.49,1143.07 L934.91,1143.15 L936.33,1143.22 L937.76,1143.30 L939.18,1143.37 L940.60,1143.45 L942.02,1143.52 L943.45,1143.60 L944.87,1143.67 L946.29,1143.74 L947.71,1143.81 L949.14,1143.88 L950.56,1143.95 L951.98,1144.02 L953.40,1144.09 L954.83,1144.16 L956.25,1144.23 L957.67,1144.29 L959.09,1144.36 L960.52,1144.43 L961.94,1144.49 L963.36,1144.56 L964.78,1144.62 L966.21,1144.69 L967.63,1144.75 L969.05,1144.81 L970.47,1144.87 L971.90,1144.94 L973.32,1145.00 L974.74,1145.06 L976.16,1145.12 L977.59,1145.18 L978.30,1145.21" fill="none" stroke="#0000FF" stroke-width="2" stroke-dasharray="6.7 11.65" stroke-dashoffset="16.51" stroke-linecap="round"/>
</g>
<rect x="639.1" y="800.1999999999999" width="331.4" height="360.4" fill="none" stroke="#000" stroke-width="1.6"/>
<path d="M658.59,1160.60L658.59,1154.20M736.57,1160.60L736.57,1154.20M814.55,1160.60L814.55,1154.20M892.52,1160.60L892.52,1154.20M970.50,1160.60L970.50,1154.20M697.58,1160.60L697.58,1157.40M775.56,1160.60L775.56,1157.40M853.54,1160.60L853.54,1157.40M931.51,1160.60L931.51,1157.40M658.59,800.20L658.59,806.60M736.57,800.20L736.57,806.60M814.55,800.20L814.55,806.60M892.52,800.20L892.52,806.60M970.50,800.20L970.50,806.60M697.58,800.20L697.58,803.40M775.56,800.20L775.56,803.40M853.54,800.20L853.54,803.40M931.51,800.20L931.51,803.40M639.10,1100.53L645.50,1100.53M639.10,1040.47L645.50,1040.47M639.10,980.40L645.50,980.40M639.10,920.33L645.50,920.33M639.10,860.27L645.50,860.27M639.10,1148.59L642.30,1148.59M639.10,1136.57L642.30,1136.57M639.10,1124.56L642.30,1124.56M639.10,1112.55L642.30,1112.55M639.10,1088.52L642.30,1088.52M639.10,1076.51L642.30,1076.51M639.10,1064.49L642.30,1064.49M639.10,1052.48L642.30,1052.48M639.10,1028.45L642.30,1028.45M639.10,1016.44L642.30,1016.44M639.10,1004.43L642.30,1004.43M639.10,992.41L642.30,992.41M639.10,968.39L642.30,968.39M639.10,956.37L642.30,956.37M639.10,944.36L642.30,944.36M639.10,932.35L642.30,932.35M639.10,908.32L642.30,908.32M639.10,896.31L642.30,896.31M639.10,884.29L642.30,884.29M639.10,872.28L642.30,872.28M639.10,848.25L642.30,848.25M639.10,836.24L642.30,836.24M639.10,824.23L642.30,824.23M639.10,812.21L642.30,812.21M970.50,1100.53L964.10,1100.53M970.50,1040.47L964.10,1040.47M970.50,980.40L964.10,980.40M970.50,920.33L964.10,920.33M970.50,860.27L964.10,860.27M970.50,1148.59L967.30,1148.59M970.50,1136.57L967.30,1136.57M970.50,1124.56L967.30,1124.56M970.50,1112.55L967.30,1112.55M970.50,1088.52L967.30,1088.52M970.50,1076.51L967.30,1076.51M970.50,1064.49L967.30,1064.49M970.50,1052.48L967.30,1052.48M970.50,1028.45L967.30,1028.45M970.50,1016.44L967.30,1016.44M970.50,1004.43L967.30,1004.43M970.50,992.41L967.30,992.41M970.50,968.39L967.30,968.39M970.50,956.37L967.30,956.37M970.50,944.36L967.30,944.36M970.50,932.35L967.30,932.35M970.50,908.32L967.30,908.32M970.50,896.31L967.30,896.31M970.50,884.29L967.30,884.29M970.50,872.28L967.30,872.28M970.50,848.25L967.30,848.25M970.50,836.24L967.30,836.24M970.50,824.23L967.30,824.23M970.50,812.21L967.30,812.21" stroke="#000" stroke-width="1.6" fill="none"/>
<text x="631.1" y="1170.6" font-family="Liberation Serif" font-size="30.5" text-anchor="end">0.0</text>
<text x="631.1" y="1110.5" font-family="Liberation Serif" font-size="30.5" text-anchor="end">0.5</text>
<text x="631.1" y="1050.5" font-family="Liberation Serif" font-size="30.5" text-anchor="end">1.0</text>
<text x="631.1" y="990.4" font-family="Liberation Serif" font-size="30.5" text-anchor="end">1.5</text>
<text x="631.1" y="930.3" font-family="Liberation Serif" font-size="30.5" text-anchor="end">2.0</text>
<text x="631.1" y="870.3" font-family="Liberation Serif" font-size="30.5" text-anchor="end">2.5</text>
<text x="631.1" y="810.2" font-family="Liberation Serif" font-size="30.5" text-anchor="end">3.0</text>
<text x="658.6" y="1192.1" font-family="Liberation Serif" font-size="30.5" text-anchor="middle">0</text>
<text x="736.6" y="1192.1" font-family="Liberation Serif" font-size="30.5" text-anchor="middle">2</text>
<text x="814.5" y="1192.1" font-family="Liberation Serif" font-size="30.5" text-anchor="middle">4</text>
<text x="892.5" y="1192.1" font-family="Liberation Serif" font-size="30.5" text-anchor="middle">6</text>
<text x="970.5" y="1192.1" font-family="Liberation Serif" font-size="30.5" text-anchor="middle">8</text>
<text x="2" y="793.3" font-family="Liberation Serif" font-size="54">b)</text>
<text transform="translate(37.2,1281.7) rotate(-90)" font-family="Liberation Serif" font-size="53">H<tspan font-size="36" dy="14">2</tspan><tspan dy="-14"> in O</tspan><tspan font-size="36" dy="14">2</tspan><tspan dy="-14"> [vol%]</tspan></text>
<rect x="363.5" y="804.5" width="184" height="113.1" fill="none" stroke="#333" stroke-width="1.1"/>
<text x="367.30" y="849.90" font-family="Liberation Serif" font-size="40" font-style="italic" text-anchor="start">p</text>
<text x="388.50" y="834.60" font-family="Liberation Serif" font-size="28" font-style="normal" text-anchor="start">a</text>
<text x="408.40" y="849.90" font-family="Liberation Serif" font-size="40" font-style="normal" text-anchor="start">=</text>
<text x="441.60" y="849.90" font-family="Liberation Serif" font-size="40" font-style="normal" text-anchor="start">5</text>
<text x="472.80" y="849.90" font-family="Liberation Serif" font-size="39" font-style="normal" text-anchor="start">bar</text>
<text x="367.30" y="906.20" font-family="Liberation Serif" font-size="40" font-style="italic" text-anchor="start">p</text>
<text x="388.50" y="890.90" font-family="Liberation Serif" font-size="28" font-style="normal" text-anchor="start">c</text>
<text x="408.40" y="906.20" font-family="Liberation Serif" font-size="40" font-style="normal" text-anchor="start">=</text>
<text x="442.50" y="906.20" font-family="Liberation Serif" font-size="40" font-style="normal" text-anchor="start">10</text>
<text x="490.20" y="906.20" font-family="Liberation Serif" font-size="39" font-style="normal" text-anchor="start">bar</text>
<text x="159.6" y="1500.0" font-family="Liberation Serif" font-size="40" text-anchor="middle">0</text>
<text x="275.3" y="1500.0" font-family="Liberation Serif" font-size="40" text-anchor="middle">20</text>
<text x="391.0" y="1500.0" font-family="Liberation Serif" font-size="40" text-anchor="middle">40</text>
<text x="506.7" y="1500.0" font-family="Liberation Serif" font-size="40" text-anchor="middle">60</text>
<text x="622.5" y="1500.0" font-family="Liberation Serif" font-size="40" text-anchor="middle">80</text>
<text x="738.2" y="1500.0" font-family="Liberation Serif" font-size="40" text-anchor="middle">100</text>
<text x="853.9" y="1500.0" font-family="Liberation Serif" font-size="40" text-anchor="middle">120</text>
<text x="969.6" y="1500.0" font-family="Liberation Serif" font-size="40" text-anchor="middle">140</text>
<text x="313.5" y="1582.7" font-family="Liberation Serif" font-size="52.6">Pt-loading <tspan font-style="italic">L</tspan><tspan font-size="36" dy="8">Pt</tspan><tspan dy="-8"> [μg cm</tspan><tspan font-size="36" dy="-20">-2</tspan><tspan dy="20">]</tspan></text>
</svg></body></html>
